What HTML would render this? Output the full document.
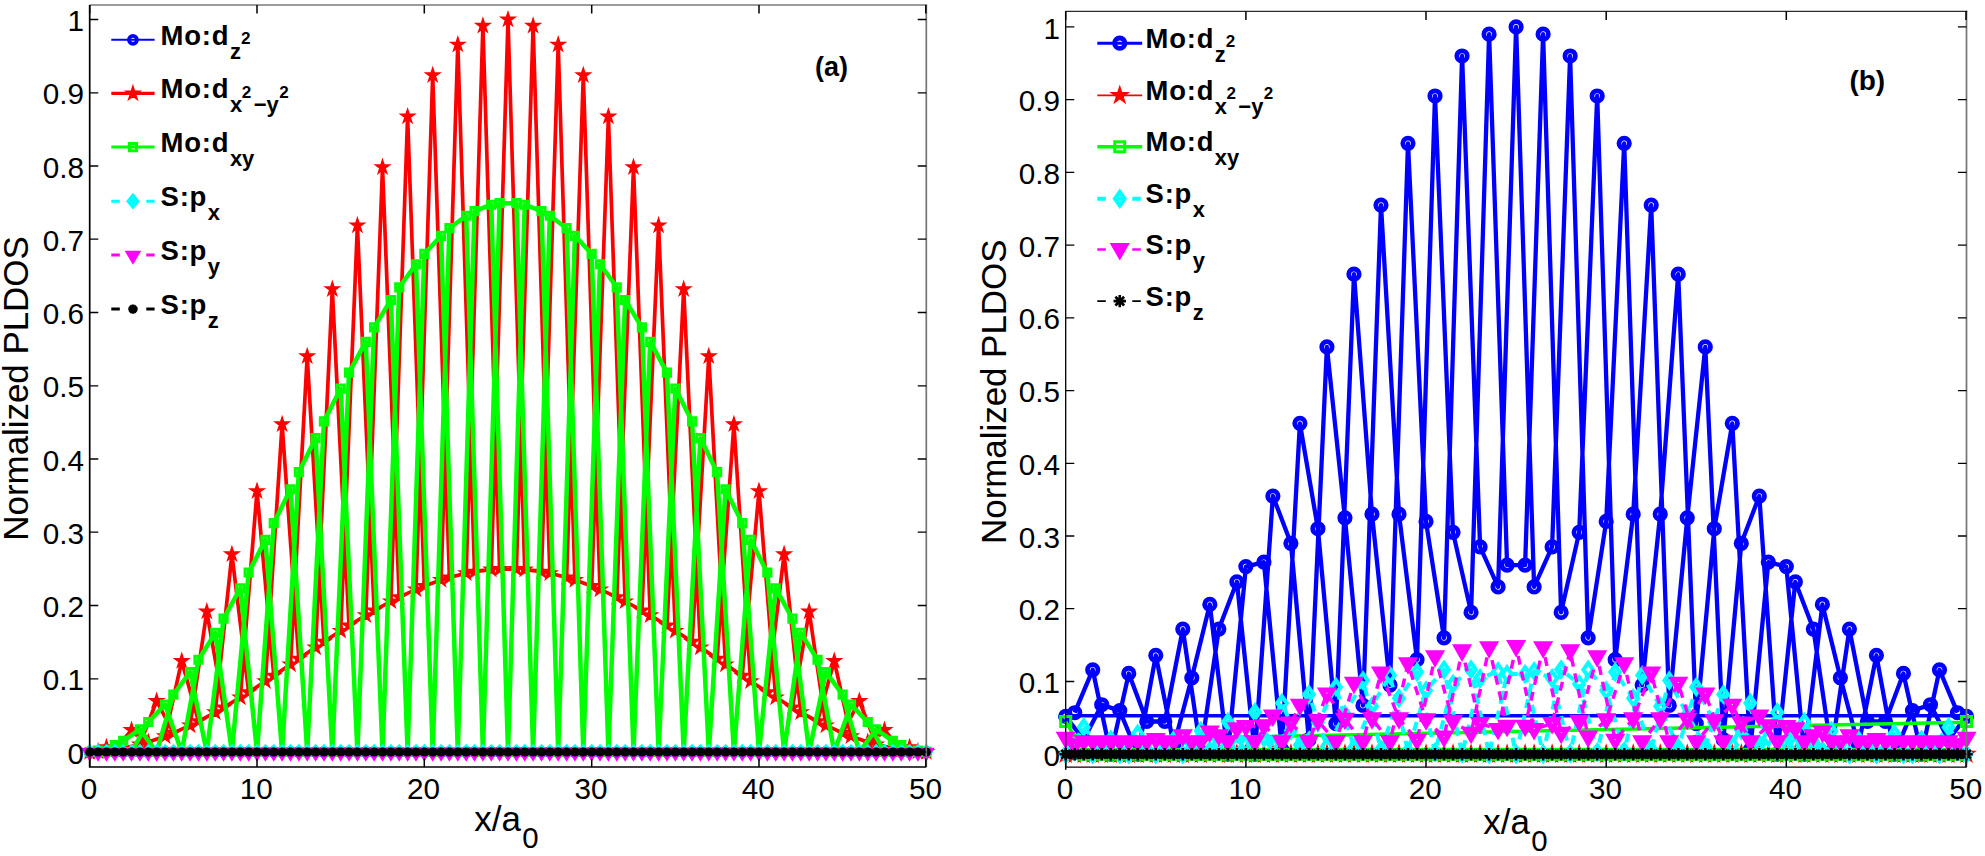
<!DOCTYPE html>
<html lang="en"><head><meta charset="utf-8"><title>Normalized PLDOS</title>
<style>html,body{margin:0;padding:0;background:#fff}svg{display:block}</style></head><body>
<svg width="1985" height="856" viewBox="0 0 1985 856">
<rect width="1985" height="856" fill="#fff"/>
<clipPath id="clipA"><rect x="77.7" y="5" width="860.6" height="762"/></clipPath>
<g clip-path="url(#clipA)">
<path d="M89.7 752H926.3" stroke="#0000ff" stroke-width="2" fill="none"/>
<path d="M85.7 752a4 4 0 1 0 8 0a4 4 0 1 0 -8 0ZM94.07 752a4 4 0 1 0 8 0a4 4 0 1 0 -8 0ZM102.43 752a4 4 0 1 0 8 0a4 4 0 1 0 -8 0ZM110.8 752a4 4 0 1 0 8 0a4 4 0 1 0 -8 0ZM119.16 752a4 4 0 1 0 8 0a4 4 0 1 0 -8 0ZM127.53 752a4 4 0 1 0 8 0a4 4 0 1 0 -8 0ZM135.9 752a4 4 0 1 0 8 0a4 4 0 1 0 -8 0ZM144.26 752a4 4 0 1 0 8 0a4 4 0 1 0 -8 0ZM152.63 752a4 4 0 1 0 8 0a4 4 0 1 0 -8 0ZM160.99 752a4 4 0 1 0 8 0a4 4 0 1 0 -8 0ZM169.36 752a4 4 0 1 0 8 0a4 4 0 1 0 -8 0ZM177.73 752a4 4 0 1 0 8 0a4 4 0 1 0 -8 0ZM186.09 752a4 4 0 1 0 8 0a4 4 0 1 0 -8 0ZM194.46 752a4 4 0 1 0 8 0a4 4 0 1 0 -8 0ZM202.82 752a4 4 0 1 0 8 0a4 4 0 1 0 -8 0ZM211.19 752a4 4 0 1 0 8 0a4 4 0 1 0 -8 0ZM219.56 752a4 4 0 1 0 8 0a4 4 0 1 0 -8 0ZM227.92 752a4 4 0 1 0 8 0a4 4 0 1 0 -8 0ZM236.29 752a4 4 0 1 0 8 0a4 4 0 1 0 -8 0ZM244.65 752a4 4 0 1 0 8 0a4 4 0 1 0 -8 0ZM253.02 752a4 4 0 1 0 8 0a4 4 0 1 0 -8 0ZM261.39 752a4 4 0 1 0 8 0a4 4 0 1 0 -8 0ZM269.75 752a4 4 0 1 0 8 0a4 4 0 1 0 -8 0ZM278.12 752a4 4 0 1 0 8 0a4 4 0 1 0 -8 0ZM286.48 752a4 4 0 1 0 8 0a4 4 0 1 0 -8 0ZM294.85 752a4 4 0 1 0 8 0a4 4 0 1 0 -8 0ZM303.22 752a4 4 0 1 0 8 0a4 4 0 1 0 -8 0ZM311.58 752a4 4 0 1 0 8 0a4 4 0 1 0 -8 0ZM319.95 752a4 4 0 1 0 8 0a4 4 0 1 0 -8 0ZM328.31 752a4 4 0 1 0 8 0a4 4 0 1 0 -8 0ZM336.68 752a4 4 0 1 0 8 0a4 4 0 1 0 -8 0ZM345.05 752a4 4 0 1 0 8 0a4 4 0 1 0 -8 0ZM353.41 752a4 4 0 1 0 8 0a4 4 0 1 0 -8 0ZM361.78 752a4 4 0 1 0 8 0a4 4 0 1 0 -8 0ZM370.14 752a4 4 0 1 0 8 0a4 4 0 1 0 -8 0ZM378.51 752a4 4 0 1 0 8 0a4 4 0 1 0 -8 0ZM386.88 752a4 4 0 1 0 8 0a4 4 0 1 0 -8 0ZM395.24 752a4 4 0 1 0 8 0a4 4 0 1 0 -8 0ZM403.61 752a4 4 0 1 0 8 0a4 4 0 1 0 -8 0ZM411.97 752a4 4 0 1 0 8 0a4 4 0 1 0 -8 0ZM420.34 752a4 4 0 1 0 8 0a4 4 0 1 0 -8 0ZM428.71 752a4 4 0 1 0 8 0a4 4 0 1 0 -8 0ZM437.07 752a4 4 0 1 0 8 0a4 4 0 1 0 -8 0ZM445.44 752a4 4 0 1 0 8 0a4 4 0 1 0 -8 0ZM453.8 752a4 4 0 1 0 8 0a4 4 0 1 0 -8 0ZM462.17 752a4 4 0 1 0 8 0a4 4 0 1 0 -8 0ZM470.54 752a4 4 0 1 0 8 0a4 4 0 1 0 -8 0ZM478.9 752a4 4 0 1 0 8 0a4 4 0 1 0 -8 0ZM487.27 752a4 4 0 1 0 8 0a4 4 0 1 0 -8 0ZM495.63 752a4 4 0 1 0 8 0a4 4 0 1 0 -8 0ZM504 752a4 4 0 1 0 8 0a4 4 0 1 0 -8 0ZM512.37 752a4 4 0 1 0 8 0a4 4 0 1 0 -8 0ZM520.73 752a4 4 0 1 0 8 0a4 4 0 1 0 -8 0ZM529.1 752a4 4 0 1 0 8 0a4 4 0 1 0 -8 0ZM537.46 752a4 4 0 1 0 8 0a4 4 0 1 0 -8 0ZM545.83 752a4 4 0 1 0 8 0a4 4 0 1 0 -8 0ZM554.2 752a4 4 0 1 0 8 0a4 4 0 1 0 -8 0ZM562.56 752a4 4 0 1 0 8 0a4 4 0 1 0 -8 0ZM570.93 752a4 4 0 1 0 8 0a4 4 0 1 0 -8 0ZM579.29 752a4 4 0 1 0 8 0a4 4 0 1 0 -8 0ZM587.66 752a4 4 0 1 0 8 0a4 4 0 1 0 -8 0ZM596.03 752a4 4 0 1 0 8 0a4 4 0 1 0 -8 0ZM604.39 752a4 4 0 1 0 8 0a4 4 0 1 0 -8 0ZM612.76 752a4 4 0 1 0 8 0a4 4 0 1 0 -8 0ZM621.12 752a4 4 0 1 0 8 0a4 4 0 1 0 -8 0ZM629.49 752a4 4 0 1 0 8 0a4 4 0 1 0 -8 0ZM637.86 752a4 4 0 1 0 8 0a4 4 0 1 0 -8 0ZM646.22 752a4 4 0 1 0 8 0a4 4 0 1 0 -8 0ZM654.59 752a4 4 0 1 0 8 0a4 4 0 1 0 -8 0ZM662.95 752a4 4 0 1 0 8 0a4 4 0 1 0 -8 0ZM671.32 752a4 4 0 1 0 8 0a4 4 0 1 0 -8 0ZM679.69 752a4 4 0 1 0 8 0a4 4 0 1 0 -8 0ZM688.05 752a4 4 0 1 0 8 0a4 4 0 1 0 -8 0ZM696.42 752a4 4 0 1 0 8 0a4 4 0 1 0 -8 0ZM704.78 752a4 4 0 1 0 8 0a4 4 0 1 0 -8 0ZM713.15 752a4 4 0 1 0 8 0a4 4 0 1 0 -8 0ZM721.52 752a4 4 0 1 0 8 0a4 4 0 1 0 -8 0ZM729.88 752a4 4 0 1 0 8 0a4 4 0 1 0 -8 0ZM738.25 752a4 4 0 1 0 8 0a4 4 0 1 0 -8 0ZM746.61 752a4 4 0 1 0 8 0a4 4 0 1 0 -8 0ZM754.98 752a4 4 0 1 0 8 0a4 4 0 1 0 -8 0ZM763.35 752a4 4 0 1 0 8 0a4 4 0 1 0 -8 0ZM771.71 752a4 4 0 1 0 8 0a4 4 0 1 0 -8 0ZM780.08 752a4 4 0 1 0 8 0a4 4 0 1 0 -8 0ZM788.44 752a4 4 0 1 0 8 0a4 4 0 1 0 -8 0ZM796.81 752a4 4 0 1 0 8 0a4 4 0 1 0 -8 0ZM805.18 752a4 4 0 1 0 8 0a4 4 0 1 0 -8 0ZM813.54 752a4 4 0 1 0 8 0a4 4 0 1 0 -8 0ZM821.91 752a4 4 0 1 0 8 0a4 4 0 1 0 -8 0ZM830.27 752a4 4 0 1 0 8 0a4 4 0 1 0 -8 0ZM838.64 752a4 4 0 1 0 8 0a4 4 0 1 0 -8 0ZM847.01 752a4 4 0 1 0 8 0a4 4 0 1 0 -8 0ZM855.37 752a4 4 0 1 0 8 0a4 4 0 1 0 -8 0ZM863.74 752a4 4 0 1 0 8 0a4 4 0 1 0 -8 0ZM872.1 752a4 4 0 1 0 8 0a4 4 0 1 0 -8 0ZM880.47 752a4 4 0 1 0 8 0a4 4 0 1 0 -8 0ZM888.84 752a4 4 0 1 0 8 0a4 4 0 1 0 -8 0ZM897.2 752a4 4 0 1 0 8 0a4 4 0 1 0 -8 0ZM905.57 752a4 4 0 1 0 8 0a4 4 0 1 0 -8 0ZM913.93 752a4 4 0 1 0 8 0a4 4 0 1 0 -8 0ZM922.3 752a4 4 0 1 0 8 0a4 4 0 1 0 -8 0Z" fill="none" stroke="#0000ff" stroke-width="3.8"/>
<path d="M89.7 751.9L106.4 747.2L123.2 748.3L139.9 744.4L156.6 701L173.4 732.9L190.1 725.4L206.8 611.6L223.6 707.5L240.3 697.4L257 491.1L273.8 675.7L290.5 664.4L307.2 356.2L323.9 641.8L340.7 630.8L357.4 225.4L374.1 610.5L390.9 601.3L407.6 116.5L424.3 586L441.1 579.9L457.8 44.6L474.5 571.7L491.3 569.6L508 19.5L524.7 569.6L541.5 571.7L558.2 44.6L574.9 579.9L591.7 586L608.4 116.5L625.1 601.3L641.9 610.5L658.6 225.4L675.3 630.8L692.1 641.8L708.8 356.2L725.5 664.4L742.2 675.7L759 491.1L775.7 697.4L792.4 707.5L809.2 611.6L825.9 725.4L842.6 732.9L859.4 701L876.1 744.4L892.8 748.3L909.6 747.2L926.3 751.9M98.1 751.5L114.8 749.7L131.5 730.1L148.3 742L165 736.2L181.7 661L198.5 721.3L215.2 712.3L231.9 554.2L248.7 692.2L265.4 681.3L282.1 424.3L298.8 658.7L315.6 647.4L332.3 289.1L349 625.5L365.8 615.3L382.5 167.2L399.2 597.1L416 589.4L432.7 75.2L449.4 577.4L466.2 573.3L482.9 25.8L499.6 569.1L516.4 569.1L533.1 25.8L549.8 573.3L566.6 577.4L583.3 75.2L600 589.4L616.8 597.1L633.5 167.2L650.2 615.3L667 625.5L683.7 289.1L700.4 647.4L717.1 658.7L733.9 424.3L750.6 681.3L767.3 692.2L784.1 554.2L800.8 712.3L817.5 721.3L834.3 661L851 736.2L867.7 742L884.5 730.1L901.2 749.7L917.9 751.5" fill="none" stroke="#ff0000" stroke-width="3.7" stroke-linejoin="round"/>
<path d="M89.7 744.94L91.27 749.77L96.36 749.77L92.24 752.76L93.81 757.6L89.7 754.61L85.59 757.6L87.16 752.76L83.04 749.77L88.13 749.77ZM98.07 744.55L99.64 749.39L104.72 749.39L100.61 752.37L102.18 757.21L98.07 754.22L93.95 757.21L95.52 752.37L91.41 749.39L96.49 749.39ZM106.43 740.24L108 745.08L113.09 745.08L108.98 748.06L110.55 752.9L106.43 749.91L102.32 752.9L103.89 748.06L99.77 745.08L104.86 745.08ZM114.8 742.72L116.37 747.56L121.46 747.56L117.34 750.55L118.91 755.39L114.8 752.4L110.68 755.39L112.25 750.55L108.14 747.56L113.23 747.56ZM123.16 741.29L124.74 746.13L129.82 746.13L125.71 749.12L127.28 753.95L123.16 750.97L119.05 753.95L120.62 749.12L116.51 746.13L121.59 746.13ZM131.53 723.08L133.1 727.92L138.19 727.92L134.07 730.91L135.64 735.75L131.53 732.76L127.42 735.75L128.99 730.91L124.87 727.92L129.96 727.92ZM139.9 737.42L141.47 742.26L146.55 742.26L142.44 745.25L144.01 750.08L139.9 747.09L135.78 750.08L137.35 745.25L133.24 742.26L138.32 742.26ZM148.26 734.99L149.83 739.83L154.92 739.83L150.81 742.82L152.38 747.66L148.26 744.67L144.15 747.66L145.72 742.82L141.6 739.83L146.69 739.83ZM156.63 694.02L158.2 698.86L163.29 698.86L159.17 701.85L160.74 706.68L156.63 703.69L152.51 706.68L154.08 701.85L149.97 698.86L155.06 698.86ZM164.99 729.21L166.57 734.05L171.65 734.05L167.54 737.04L169.11 741.87L164.99 738.89L160.88 741.87L162.45 737.04L158.34 734.05L163.42 734.05ZM173.36 725.88L174.93 730.71L180.02 730.71L175.9 733.7L177.47 738.54L173.36 735.55L169.25 738.54L170.82 733.7L166.7 730.71L171.79 730.71ZM181.73 654.05L183.3 658.89L188.38 658.89L184.27 661.88L185.84 666.71L181.73 663.72L177.61 666.71L179.18 661.88L175.07 658.89L180.15 658.89ZM190.09 718.38L191.66 723.22L196.75 723.22L192.64 726.21L194.21 731.05L190.09 728.06L185.98 731.05L187.55 726.21L183.43 723.22L188.52 723.22ZM198.46 714.25L200.03 719.09L205.12 719.09L201 722.08L202.57 726.92L198.46 723.93L194.34 726.92L195.91 722.08L191.8 719.09L196.89 719.09ZM206.82 604.55L208.4 609.39L213.48 609.39L209.37 612.38L210.94 617.22L206.82 614.23L202.71 617.22L204.28 612.38L200.17 609.39L205.25 609.39ZM215.19 705.31L216.76 710.14L221.85 710.14L217.73 713.13L219.3 717.97L215.19 714.98L211.08 717.97L212.65 713.13L208.53 710.14L213.62 710.14ZM223.56 700.53L225.13 705.36L230.21 705.36L226.1 708.35L227.67 713.19L223.56 710.2L219.44 713.19L221.01 708.35L216.9 705.36L221.98 705.36ZM231.92 547.25L233.49 552.09L238.58 552.09L234.47 555.08L236.04 559.91L231.92 556.92L227.81 559.91L229.38 555.08L225.26 552.09L230.35 552.09ZM240.29 690.44L241.86 695.27L246.95 695.27L242.83 698.26L244.4 703.1L240.29 700.11L236.17 703.1L237.74 698.26L233.63 695.27L238.72 695.27ZM248.65 685.17L250.23 690.01L255.31 690.01L251.2 693L252.77 697.83L248.65 694.84L244.54 697.83L246.11 693L242 690.01L247.08 690.01ZM257.02 484.11L258.59 488.95L263.68 488.95L259.56 491.94L261.13 496.78L257.02 493.79L252.91 496.78L254.48 491.94L250.36 488.95L255.45 488.95ZM265.39 674.29L266.96 679.12L272.04 679.12L267.93 682.11L269.5 686.95L265.39 683.96L261.27 686.95L262.84 682.11L258.73 679.12L263.81 679.12ZM273.75 668.71L275.32 673.55L280.41 673.55L276.3 676.54L277.87 681.38L273.75 678.39L269.64 681.38L271.21 676.54L267.09 673.55L272.18 673.55ZM282.12 417.34L283.69 422.17L288.78 422.17L284.66 425.16L286.23 430L282.12 427.01L278 430L279.57 425.16L275.46 422.17L280.55 422.17ZM290.48 657.42L292.06 662.25L297.14 662.25L293.03 665.24L294.6 670.08L290.48 667.09L286.37 670.08L287.94 665.24L283.83 662.25L288.91 662.25ZM298.85 651.73L300.42 656.57L305.51 656.57L301.39 659.56L302.96 664.4L298.85 661.41L294.74 664.4L296.31 659.56L292.19 656.57L297.28 656.57ZM307.22 349.22L308.79 354.06L313.87 354.06L309.76 357.05L311.33 361.88L307.22 358.9L303.1 361.88L304.67 357.05L300.56 354.06L305.64 354.06ZM315.58 640.41L317.15 645.24L322.24 645.24L318.13 648.23L319.7 653.07L315.58 650.08L311.47 653.07L313.04 648.23L308.92 645.24L314.01 645.24ZM323.95 634.81L325.52 639.65L330.61 639.65L326.49 642.63L328.06 647.47L323.95 644.48L319.83 647.47L321.4 642.63L317.29 639.65L322.38 639.65ZM332.31 282.13L333.89 286.97L338.97 286.97L334.86 289.95L336.43 294.79L332.31 291.8L328.2 294.79L329.77 289.95L325.66 286.97L330.74 286.97ZM340.68 623.85L342.25 628.69L347.34 628.69L343.22 631.68L344.79 636.51L340.68 633.52L336.57 636.51L338.14 631.68L334.02 628.69L339.11 628.69ZM349.05 618.53L350.62 623.37L355.7 623.37L351.59 626.36L353.16 631.19L349.05 628.2L344.93 631.19L346.5 626.36L342.39 623.37L347.47 623.37ZM357.41 218.38L358.98 223.21L364.07 223.22L359.96 226.2L361.53 231.04L357.41 228.05L353.3 231.04L354.87 226.2L350.75 223.22L355.84 223.21ZM365.78 608.31L367.35 613.15L372.44 613.15L368.32 616.14L369.89 620.98L365.78 617.99L361.66 620.98L363.23 616.14L359.12 613.15L364.21 613.15ZM374.14 603.46L375.72 608.29L380.8 608.29L376.69 611.28L378.26 616.12L374.14 613.13L370.03 616.12L371.6 611.28L367.49 608.29L372.57 608.29ZM382.51 160.18L384.08 165.01L389.17 165.01L385.05 168L386.62 172.84L382.51 169.85L378.4 172.84L379.97 168L375.85 165.01L380.94 165.01ZM390.88 594.34L392.45 599.18L397.53 599.18L393.42 602.17L394.99 607L390.88 604.01L386.76 607L388.33 602.17L384.22 599.18L389.3 599.18ZM399.24 590.12L400.81 594.95L405.9 594.95L401.79 597.94L403.36 602.78L399.24 599.79L395.13 602.78L396.7 597.94L392.58 594.95L397.67 594.95ZM407.61 109.53L409.18 114.37L414.27 114.37L410.15 117.36L411.72 122.2L407.61 119.21L403.49 122.2L405.06 117.36L400.95 114.37L406.04 114.37ZM415.97 582.41L417.55 587.25L422.63 587.25L418.52 590.24L420.09 595.07L415.97 592.09L411.86 595.07L413.43 590.24L409.32 587.25L414.4 587.25ZM424.34 578.96L425.91 583.8L431 583.8L426.88 586.79L428.45 591.63L424.34 588.64L420.23 591.63L421.8 586.79L417.68 583.8L422.77 583.8ZM432.71 68.21L434.28 73.04L439.36 73.04L435.25 76.03L436.82 80.87L432.71 77.88L428.59 80.87L430.16 76.03L426.05 73.04L431.13 73.04ZM441.07 572.94L442.64 577.78L447.73 577.78L443.62 580.77L445.19 585.6L441.07 582.61L436.96 585.6L438.53 580.77L434.41 577.78L439.5 577.78ZM449.44 570.39L451.01 575.22L456.1 575.22L451.98 578.21L453.55 583.05L449.44 580.06L445.32 583.05L446.89 578.21L442.78 575.22L447.87 575.22ZM457.8 37.62L459.38 42.46L464.46 42.46L460.35 45.45L461.92 50.28L457.8 47.29L453.69 50.28L455.26 45.45L451.15 42.46L456.23 42.46ZM466.17 566.25L467.74 571.09L472.83 571.09L468.71 574.08L470.28 578.91L466.17 575.93L462.06 578.91L463.63 574.08L459.51 571.09L464.6 571.09ZM474.54 564.68L476.11 569.52L481.19 569.52L477.08 572.51L478.65 577.35L474.54 574.36L470.42 577.35L471.99 572.51L467.88 569.52L472.96 569.52ZM482.9 18.83L484.47 23.67L489.56 23.67L485.45 26.66L487.02 31.5L482.9 28.51L478.79 31.5L480.36 26.66L476.24 23.67L481.33 23.67ZM491.27 562.58L492.84 567.42L497.93 567.42L493.81 570.41L495.38 575.24L491.27 572.25L487.15 575.24L488.72 570.41L484.61 567.42L489.7 567.42ZM499.63 562.05L501.21 566.89L506.29 566.89L502.18 569.88L503.75 574.71L499.63 571.73L495.52 574.71L497.09 569.88L492.98 566.89L498.06 566.89ZM508 12.5L509.57 17.34L514.66 17.34L510.54 20.33L512.11 25.16L508 22.17L503.89 25.16L505.46 20.33L501.34 17.34L506.43 17.34ZM516.37 562.05L517.94 566.89L523.02 566.89L518.91 569.88L520.48 574.71L516.37 571.73L512.25 574.71L513.82 569.88L509.71 566.89L514.79 566.89ZM524.73 562.58L526.3 567.42L531.39 567.42L527.28 570.41L528.85 575.24L524.73 572.25L520.62 575.24L522.19 570.41L518.07 567.42L523.16 567.42ZM533.1 18.83L534.67 23.67L539.76 23.67L535.64 26.66L537.21 31.5L533.1 28.51L528.98 31.5L530.55 26.66L526.44 23.67L531.53 23.67ZM541.46 564.68L543.04 569.52L548.12 569.52L544.01 572.51L545.58 577.35L541.46 574.36L537.35 577.35L538.92 572.51L534.81 569.52L539.89 569.52ZM549.83 566.25L551.4 571.09L556.49 571.09L552.37 574.08L553.94 578.91L549.83 575.93L545.72 578.91L547.29 574.08L543.17 571.09L548.26 571.09ZM558.2 37.62L559.77 42.46L564.85 42.46L560.74 45.45L562.31 50.28L558.2 47.29L554.08 50.28L555.65 45.45L551.54 42.46L556.62 42.46ZM566.56 570.39L568.13 575.22L573.22 575.22L569.11 578.21L570.68 583.05L566.56 580.06L562.45 583.05L564.02 578.21L559.9 575.22L564.99 575.22ZM574.93 572.94L576.5 577.78L581.59 577.78L577.47 580.77L579.04 585.6L574.93 582.61L570.81 585.6L572.38 580.77L568.27 577.78L573.36 577.78ZM583.29 68.21L584.87 73.04L589.95 73.04L585.84 76.03L587.41 80.87L583.29 77.88L579.18 80.87L580.75 76.03L576.64 73.04L581.72 73.04ZM591.66 578.96L593.23 583.8L598.32 583.8L594.2 586.79L595.77 591.63L591.66 588.64L587.55 591.63L589.12 586.79L585 583.8L590.09 583.8ZM600.03 582.41L601.6 587.25L606.68 587.25L602.57 590.24L604.14 595.07L600.03 592.09L595.91 595.07L597.48 590.24L593.37 587.25L598.45 587.25ZM608.39 109.53L609.96 114.37L615.05 114.37L610.94 117.36L612.51 122.2L608.39 119.21L604.28 122.2L605.85 117.36L601.73 114.37L606.82 114.37ZM616.76 590.12L618.33 594.95L623.42 594.95L619.3 597.94L620.87 602.78L616.76 599.79L612.64 602.78L614.21 597.94L610.1 594.95L615.19 594.95ZM625.12 594.34L626.7 599.18L631.78 599.18L627.67 602.17L629.24 607L625.12 604.01L621.01 607L622.58 602.17L618.47 599.18L623.55 599.18ZM633.49 160.18L635.06 165.01L640.15 165.01L636.03 168L637.6 172.84L633.49 169.85L629.38 172.84L630.95 168L626.83 165.01L631.92 165.01ZM641.86 603.46L643.43 608.29L648.51 608.29L644.4 611.28L645.97 616.12L641.86 613.13L637.74 616.12L639.31 611.28L635.2 608.29L640.28 608.29ZM650.22 608.31L651.79 613.15L656.88 613.15L652.77 616.14L654.34 620.98L650.22 617.99L646.11 620.98L647.68 616.14L643.56 613.15L648.65 613.15ZM658.59 218.38L660.16 223.21L665.25 223.22L661.13 226.2L662.7 231.04L658.59 228.05L654.47 231.04L656.04 226.2L651.93 223.22L657.02 223.21ZM666.95 618.53L668.53 623.37L673.61 623.37L669.5 626.36L671.07 631.19L666.95 628.2L662.84 631.19L664.41 626.36L660.3 623.37L665.38 623.37ZM675.32 623.85L676.89 628.69L681.98 628.69L677.86 631.68L679.43 636.51L675.32 633.52L671.21 636.51L672.78 631.68L668.66 628.69L673.75 628.69ZM683.69 282.13L685.26 286.97L690.34 286.97L686.23 289.95L687.8 294.79L683.69 291.8L679.57 294.79L681.14 289.95L677.03 286.97L682.11 286.97ZM692.05 634.81L693.62 639.65L698.71 639.65L694.6 642.63L696.17 647.47L692.05 644.48L687.94 647.47L689.51 642.63L685.39 639.65L690.48 639.65ZM700.42 640.41L701.99 645.24L707.08 645.24L702.96 648.23L704.53 653.07L700.42 650.08L696.3 653.07L697.87 648.23L693.76 645.24L698.85 645.24ZM708.78 349.22L710.36 354.06L715.44 354.06L711.33 357.05L712.9 361.88L708.78 358.9L704.67 361.88L706.24 357.05L702.13 354.06L707.21 354.06ZM717.15 651.73L718.72 656.57L723.81 656.57L719.69 659.56L721.26 664.4L717.15 661.41L713.04 664.4L714.61 659.56L710.49 656.57L715.58 656.57ZM725.52 657.42L727.09 662.25L732.17 662.25L728.06 665.24L729.63 670.08L725.52 667.09L721.4 670.08L722.97 665.24L718.86 662.25L723.94 662.25ZM733.88 417.34L735.45 422.17L740.54 422.17L736.43 425.16L738 430L733.88 427.01L729.77 430L731.34 425.16L727.22 422.17L732.31 422.17ZM742.25 668.71L743.82 673.55L748.91 673.55L744.79 676.54L746.36 681.38L742.25 678.39L738.13 681.38L739.7 676.54L735.59 673.55L740.68 673.55ZM750.61 674.29L752.19 679.12L757.27 679.12L753.16 682.11L754.73 686.95L750.61 683.96L746.5 686.95L748.07 682.11L743.96 679.12L749.04 679.12ZM758.98 484.11L760.55 488.95L765.64 488.95L761.52 491.94L763.09 496.78L758.98 493.79L754.87 496.78L756.44 491.94L752.32 488.95L757.41 488.95ZM767.35 685.17L768.92 690.01L774 690.01L769.89 693L771.46 697.83L767.35 694.84L763.23 697.83L764.8 693L760.69 690.01L765.77 690.01ZM775.71 690.44L777.28 695.27L782.37 695.27L778.26 698.26L779.83 703.1L775.71 700.11L771.6 703.1L773.17 698.26L769.05 695.27L774.14 695.27ZM784.08 547.25L785.65 552.09L790.74 552.09L786.62 555.08L788.19 559.91L784.08 556.92L779.96 559.91L781.53 555.08L777.42 552.09L782.51 552.09ZM792.44 700.53L794.02 705.36L799.1 705.36L794.99 708.35L796.56 713.19L792.44 710.2L788.33 713.19L789.9 708.35L785.79 705.36L790.87 705.36ZM800.81 705.31L802.38 710.14L807.47 710.14L803.35 713.13L804.92 717.97L800.81 714.98L796.7 717.97L798.27 713.13L794.15 710.14L799.24 710.14ZM809.18 604.55L810.75 609.39L815.83 609.39L811.72 612.38L813.29 617.22L809.18 614.23L805.06 617.22L806.63 612.38L802.52 609.39L807.6 609.39ZM817.54 714.25L819.11 719.09L824.2 719.09L820.09 722.08L821.66 726.92L817.54 723.93L813.43 726.92L815 722.08L810.88 719.09L815.97 719.09ZM825.91 718.38L827.48 723.22L832.57 723.22L828.45 726.21L830.02 731.05L825.91 728.06L821.79 731.05L823.36 726.21L819.25 723.22L824.34 723.22ZM834.27 654.05L835.85 658.89L840.93 658.89L836.82 661.88L838.39 666.71L834.27 663.72L830.16 666.71L831.73 661.88L827.62 658.89L832.7 658.89ZM842.64 725.88L844.21 730.71L849.3 730.71L845.18 733.7L846.75 738.54L842.64 735.55L838.53 738.54L840.1 733.7L835.98 730.71L841.07 730.71ZM851.01 729.21L852.58 734.05L857.66 734.05L853.55 737.04L855.12 741.87L851.01 738.89L846.89 741.87L848.46 737.04L844.35 734.05L849.43 734.05ZM859.37 694.02L860.94 698.86L866.03 698.86L861.92 701.85L863.49 706.68L859.37 703.69L855.26 706.68L856.83 701.85L852.71 698.86L857.8 698.86ZM867.74 734.99L869.31 739.83L874.4 739.83L870.28 742.82L871.85 747.66L867.74 744.67L863.62 747.66L865.19 742.82L861.08 739.83L866.17 739.83ZM876.1 737.42L877.68 742.26L882.76 742.26L878.65 745.25L880.22 750.08L876.1 747.09L871.99 750.08L873.56 745.25L869.45 742.26L874.53 742.26ZM884.47 723.08L886.04 727.92L891.13 727.92L887.01 730.91L888.58 735.75L884.47 732.76L880.36 735.75L881.93 730.91L877.81 727.92L882.9 727.92ZM892.84 741.29L894.41 746.13L899.49 746.13L895.38 749.12L896.95 753.95L892.84 750.97L888.72 753.95L890.29 749.12L886.18 746.13L891.26 746.13ZM901.2 742.72L902.77 747.56L907.86 747.56L903.75 750.55L905.32 755.39L901.2 752.4L897.09 755.39L898.66 750.55L894.54 747.56L899.63 747.56ZM909.57 740.24L911.14 745.08L916.23 745.08L912.11 748.06L913.68 752.9L909.57 749.91L905.45 752.9L907.02 748.06L902.91 745.08L908 745.08ZM917.93 744.55L919.51 749.39L924.59 749.39L920.48 752.37L922.05 757.21L917.93 754.22L913.82 757.21L915.39 752.37L911.28 749.39L916.36 749.39ZM926.3 744.94L927.87 749.77L932.96 749.77L928.84 752.76L930.41 757.6L926.3 754.61L922.19 757.6L923.76 752.76L919.64 749.77L924.73 749.77Z" fill="#ff0000" stroke="#ff0000" stroke-width="1.6"/>
<path d="M89.7 751.8L106.4 752L123.2 740.9L139.9 729.3L156.6 752L173.4 694.6L190.1 672.1L206.8 752L223.6 618.6L240.3 588.3L257 752L273.8 523.1L290.5 489.2L307.2 752L323.9 421.4L340.7 388.5L357.4 752L374.1 327.4L390.9 300L407.6 752L424.3 253.9L441.1 235.8L457.8 752L474.5 211.1L491.3 204.7L508 752L524.7 204.7L541.5 211.1L558.2 752L574.9 235.8L591.7 253.9L608.4 752L625.1 300L641.9 327.4L658.6 752L675.3 388.5L692.1 421.4L708.8 752L725.5 489.2L742.2 523.1L759 752L775.7 588.3L792.4 618.6L809.2 752L825.9 672.1L842.6 694.6L859.4 752L876.1 729.3L892.8 740.9L909.6 752L926.3 751.8M98.1 750.6L114.8 745.2L131.5 752L148.3 722L165 704.6L181.7 752L198.5 659.8L215.2 632.9L231.9 752L248.7 572.5L265.4 539.9L282.1 752L298.8 472.2L315.6 438.2L332.3 752L349 372.6L365.8 341.9L382.5 752L399.2 287.3L416 264.2L432.7 752L449.4 228.2L466.2 215.8L482.9 752L499.6 203.2L516.4 203.2L533.1 752L549.8 215.8L566.6 228.2L583.3 752L600 264.2L616.8 287.3L633.5 752L650.2 341.9L667 372.6L683.7 752L700.4 438.2L717.1 472.2L733.9 752L750.6 539.9L767.3 572.5L784.1 752L800.8 632.9L817.5 659.8L834.3 752L851 704.6L867.7 722L884.5 752L901.2 745.2L917.9 750.6" fill="none" stroke="#00ff00" stroke-width="4.5" stroke-linejoin="round"/>
<path d="M86.1 748.21L93.3 748.21L93.3 755.41L86.1 755.41ZM94.47 747.05L101.67 747.05L101.67 754.25L94.47 754.25ZM102.83 748.4L110.03 748.4L110.03 755.6L102.83 755.6ZM111.2 741.57L118.4 741.57L118.4 748.77L111.2 748.77ZM119.56 737.27L126.76 737.27L126.76 744.47L119.56 744.47ZM127.93 748.4L135.13 748.4L135.13 755.6L127.93 755.6ZM136.3 725.66L143.5 725.66L143.5 732.86L136.3 732.86ZM144.66 718.38L151.86 718.38L151.86 725.58L144.66 725.58ZM153.03 748.4L160.23 748.4L160.23 755.6L153.03 755.6ZM161.39 701.04L168.59 701.04L168.59 708.24L161.39 708.24ZM169.76 691.03L176.96 691.03L176.96 698.23L169.76 698.23ZM178.13 748.4L185.33 748.4L185.33 755.6L178.13 755.6ZM186.49 668.55L193.69 668.55L193.69 675.75L186.49 675.75ZM194.86 656.16L202.06 656.16L202.06 663.36L194.86 663.36ZM203.22 748.4L210.42 748.4L210.42 755.6L203.22 755.6ZM211.59 629.32L218.79 629.32L218.79 636.52L211.59 636.52ZM219.96 614.98L227.16 614.98L227.16 622.18L219.96 622.18ZM228.32 748.4L235.52 748.4L235.52 755.6L228.32 755.6ZM236.69 584.71L243.89 584.71L243.89 591.91L236.69 591.91ZM245.05 568.91L252.25 568.91L252.25 576.11L245.05 576.11ZM253.42 748.4L260.62 748.4L260.62 755.6L253.42 755.6ZM261.79 536.26L268.99 536.26L268.99 543.46L261.79 543.46ZM270.15 519.54L277.35 519.54L277.35 526.74L270.15 526.74ZM278.52 748.4L285.72 748.4L285.72 755.6L278.52 755.6ZM286.88 485.65L294.08 485.65L294.08 492.85L286.88 492.85ZM295.25 468.6L302.45 468.6L302.45 475.8L295.25 475.8ZM303.62 748.4L310.82 748.4L310.82 755.6L303.62 755.6ZM311.98 434.62L319.18 434.62L319.18 441.82L311.98 441.82ZM320.35 417.83L327.55 417.83L327.55 425.03L320.35 425.03ZM328.71 748.4L335.91 748.4L335.91 755.6L328.71 755.6ZM337.08 384.95L344.28 384.95L344.28 392.15L337.08 392.15ZM345.45 368.99L352.65 368.99L352.65 376.19L345.45 376.19ZM353.81 748.4L361.01 748.4L361.01 755.6L353.81 755.6ZM362.18 338.34L369.38 338.34L369.38 345.54L362.18 345.54ZM370.54 323.77L377.74 323.77L377.74 330.97L370.54 330.97ZM378.91 748.4L386.11 748.4L386.11 755.6L378.91 755.6ZM387.28 296.42L394.48 296.42L394.48 303.62L387.28 303.62ZM395.64 283.75L402.84 283.75L402.84 290.95L395.64 290.95ZM404.01 748.4L411.21 748.4L411.21 755.6L404.01 755.6ZM412.37 260.63L419.57 260.63L419.57 267.83L412.37 267.83ZM420.74 250.29L427.94 250.29L427.94 257.49L420.74 257.49ZM429.11 748.4L436.31 748.4L436.31 755.6L429.11 755.6ZM437.47 232.22L444.67 232.22L444.67 239.42L437.47 239.42ZM445.84 224.56L453.04 224.56L453.04 231.76L445.84 231.76ZM454.2 748.4L461.4 748.4L461.4 755.6L454.2 755.6ZM462.57 212.15L469.77 212.15L469.77 219.35L462.57 219.35ZM470.94 207.45L478.14 207.45L478.14 214.65L470.94 214.65ZM479.3 748.4L486.5 748.4L486.5 755.6L479.3 755.6ZM487.67 201.14L494.87 201.14L494.87 208.34L487.67 208.34ZM496.03 199.55L503.23 199.55L503.23 206.75L496.03 206.75ZM504.4 748.4L511.6 748.4L511.6 755.6L504.4 755.6ZM512.77 199.55L519.97 199.55L519.97 206.75L512.77 206.75ZM521.13 201.14L528.33 201.14L528.33 208.34L521.13 208.34ZM529.5 748.4L536.7 748.4L536.7 755.6L529.5 755.6ZM537.86 207.45L545.06 207.45L545.06 214.65L537.86 214.65ZM546.23 212.15L553.43 212.15L553.43 219.35L546.23 219.35ZM554.6 748.4L561.8 748.4L561.8 755.6L554.6 755.6ZM562.96 224.56L570.16 224.56L570.16 231.76L562.96 231.76ZM571.33 232.22L578.53 232.22L578.53 239.42L571.33 239.42ZM579.69 748.4L586.89 748.4L586.89 755.6L579.69 755.6ZM588.06 250.29L595.26 250.29L595.26 257.49L588.06 257.49ZM596.43 260.63L603.63 260.63L603.63 267.83L596.43 267.83ZM604.79 748.4L611.99 748.4L611.99 755.6L604.79 755.6ZM613.16 283.75L620.36 283.75L620.36 290.95L613.16 290.95ZM621.52 296.42L628.72 296.42L628.72 303.62L621.52 303.62ZM629.89 748.4L637.09 748.4L637.09 755.6L629.89 755.6ZM638.26 323.77L645.46 323.77L645.46 330.97L638.26 330.97ZM646.62 338.34L653.82 338.34L653.82 345.54L646.62 345.54ZM654.99 748.4L662.19 748.4L662.19 755.6L654.99 755.6ZM663.35 368.99L670.55 368.99L670.55 376.19L663.35 376.19ZM671.72 384.95L678.92 384.95L678.92 392.15L671.72 392.15ZM680.09 748.4L687.29 748.4L687.29 755.6L680.09 755.6ZM688.45 417.83L695.65 417.83L695.65 425.03L688.45 425.03ZM696.82 434.62L704.02 434.62L704.02 441.82L696.82 441.82ZM705.18 748.4L712.38 748.4L712.38 755.6L705.18 755.6ZM713.55 468.6L720.75 468.6L720.75 475.8L713.55 475.8ZM721.92 485.65L729.12 485.65L729.12 492.85L721.92 492.85ZM730.28 748.4L737.48 748.4L737.48 755.6L730.28 755.6ZM738.65 519.54L745.85 519.54L745.85 526.74L738.65 526.74ZM747.01 536.26L754.21 536.26L754.21 543.46L747.01 543.46ZM755.38 748.4L762.58 748.4L762.58 755.6L755.38 755.6ZM763.75 568.91L770.95 568.91L770.95 576.11L763.75 576.11ZM772.11 584.71L779.31 584.71L779.31 591.91L772.11 591.91ZM780.48 748.4L787.68 748.4L787.68 755.6L780.48 755.6ZM788.84 614.98L796.04 614.98L796.04 622.18L788.84 622.18ZM797.21 629.32L804.41 629.32L804.41 636.52L797.21 636.52ZM805.58 748.4L812.78 748.4L812.78 755.6L805.58 755.6ZM813.94 656.16L821.14 656.16L821.14 663.36L813.94 663.36ZM822.31 668.55L829.51 668.55L829.51 675.75L822.31 675.75ZM830.67 748.4L837.87 748.4L837.87 755.6L830.67 755.6ZM839.04 691.03L846.24 691.03L846.24 698.23L839.04 698.23ZM847.41 701.04L854.61 701.04L854.61 708.24L847.41 708.24ZM855.77 748.4L862.97 748.4L862.97 755.6L855.77 755.6ZM864.14 718.38L871.34 718.38L871.34 725.58L864.14 725.58ZM872.5 725.66L879.7 725.66L879.7 732.86L872.5 732.86ZM880.87 748.4L888.07 748.4L888.07 755.6L880.87 755.6ZM889.24 737.27L896.44 737.27L896.44 744.47L889.24 744.47ZM897.6 741.57L904.8 741.57L904.8 748.77L897.6 748.77ZM905.97 748.4L913.17 748.4L913.17 755.6L905.97 755.6ZM914.33 747.05L921.53 747.05L921.53 754.25L914.33 754.25ZM922.7 748.21L929.9 748.21L929.9 755.41L922.7 755.41Z" fill="none" stroke="#00ff00" stroke-width="3"/>
<path d="M89.7 745.2L95.3 752L89.7 758.8L84.1 752ZM98.07 745.2L103.67 752L98.07 758.8L92.47 752ZM106.43 745.2L112.03 752L106.43 758.8L100.83 752ZM114.8 745.2L120.4 752L114.8 758.8L109.2 752ZM123.16 745.2L128.76 752L123.16 758.8L117.56 752ZM131.53 745.2L137.13 752L131.53 758.8L125.93 752ZM139.9 745.2L145.5 752L139.9 758.8L134.3 752ZM148.26 745.2L153.86 752L148.26 758.8L142.66 752ZM156.63 745.2L162.23 752L156.63 758.8L151.03 752ZM164.99 745.2L170.59 752L164.99 758.8L159.39 752ZM173.36 745.2L178.96 752L173.36 758.8L167.76 752ZM181.73 745.2L187.33 752L181.73 758.8L176.13 752ZM190.09 745.2L195.69 752L190.09 758.8L184.49 752ZM198.46 745.2L204.06 752L198.46 758.8L192.86 752ZM206.82 745.2L212.42 752L206.82 758.8L201.22 752ZM215.19 745.2L220.79 752L215.19 758.8L209.59 752ZM223.56 745.2L229.16 752L223.56 758.8L217.96 752ZM231.92 745.2L237.52 752L231.92 758.8L226.32 752ZM240.29 745.2L245.89 752L240.29 758.8L234.69 752ZM248.65 745.2L254.25 752L248.65 758.8L243.05 752ZM257.02 745.2L262.62 752L257.02 758.8L251.42 752ZM265.39 745.2L270.99 752L265.39 758.8L259.79 752ZM273.75 745.2L279.35 752L273.75 758.8L268.15 752ZM282.12 745.2L287.72 752L282.12 758.8L276.52 752ZM290.48 745.2L296.08 752L290.48 758.8L284.88 752ZM298.85 745.2L304.45 752L298.85 758.8L293.25 752ZM307.22 745.2L312.82 752L307.22 758.8L301.62 752ZM315.58 745.2L321.18 752L315.58 758.8L309.98 752ZM323.95 745.2L329.55 752L323.95 758.8L318.35 752ZM332.31 745.2L337.91 752L332.31 758.8L326.71 752ZM340.68 745.2L346.28 752L340.68 758.8L335.08 752ZM349.05 745.2L354.65 752L349.05 758.8L343.45 752ZM357.41 745.2L363.01 752L357.41 758.8L351.81 752ZM365.78 745.2L371.38 752L365.78 758.8L360.18 752ZM374.14 745.2L379.74 752L374.14 758.8L368.54 752ZM382.51 745.2L388.11 752L382.51 758.8L376.91 752ZM390.88 745.2L396.48 752L390.88 758.8L385.28 752ZM399.24 745.2L404.84 752L399.24 758.8L393.64 752ZM407.61 745.2L413.21 752L407.61 758.8L402.01 752ZM415.97 745.2L421.57 752L415.97 758.8L410.37 752ZM424.34 745.2L429.94 752L424.34 758.8L418.74 752ZM432.71 745.2L438.31 752L432.71 758.8L427.11 752ZM441.07 745.2L446.67 752L441.07 758.8L435.47 752ZM449.44 745.2L455.04 752L449.44 758.8L443.84 752ZM457.8 745.2L463.4 752L457.8 758.8L452.2 752ZM466.17 745.2L471.77 752L466.17 758.8L460.57 752ZM474.54 745.2L480.14 752L474.54 758.8L468.94 752ZM482.9 745.2L488.5 752L482.9 758.8L477.3 752ZM491.27 745.2L496.87 752L491.27 758.8L485.67 752ZM499.63 745.2L505.23 752L499.63 758.8L494.03 752ZM508 745.2L513.6 752L508 758.8L502.4 752ZM516.37 745.2L521.97 752L516.37 758.8L510.77 752ZM524.73 745.2L530.33 752L524.73 758.8L519.13 752ZM533.1 745.2L538.7 752L533.1 758.8L527.5 752ZM541.46 745.2L547.06 752L541.46 758.8L535.86 752ZM549.83 745.2L555.43 752L549.83 758.8L544.23 752ZM558.2 745.2L563.8 752L558.2 758.8L552.6 752ZM566.56 745.2L572.16 752L566.56 758.8L560.96 752ZM574.93 745.2L580.53 752L574.93 758.8L569.33 752ZM583.29 745.2L588.89 752L583.29 758.8L577.69 752ZM591.66 745.2L597.26 752L591.66 758.8L586.06 752ZM600.03 745.2L605.63 752L600.03 758.8L594.43 752ZM608.39 745.2L613.99 752L608.39 758.8L602.79 752ZM616.76 745.2L622.36 752L616.76 758.8L611.16 752ZM625.12 745.2L630.72 752L625.12 758.8L619.52 752ZM633.49 745.2L639.09 752L633.49 758.8L627.89 752ZM641.86 745.2L647.46 752L641.86 758.8L636.26 752ZM650.22 745.2L655.82 752L650.22 758.8L644.62 752ZM658.59 745.2L664.19 752L658.59 758.8L652.99 752ZM666.95 745.2L672.55 752L666.95 758.8L661.35 752ZM675.32 745.2L680.92 752L675.32 758.8L669.72 752ZM683.69 745.2L689.29 752L683.69 758.8L678.09 752ZM692.05 745.2L697.65 752L692.05 758.8L686.45 752ZM700.42 745.2L706.02 752L700.42 758.8L694.82 752ZM708.78 745.2L714.38 752L708.78 758.8L703.18 752ZM717.15 745.2L722.75 752L717.15 758.8L711.55 752ZM725.52 745.2L731.12 752L725.52 758.8L719.92 752ZM733.88 745.2L739.48 752L733.88 758.8L728.28 752ZM742.25 745.2L747.85 752L742.25 758.8L736.65 752ZM750.61 745.2L756.21 752L750.61 758.8L745.01 752ZM758.98 745.2L764.58 752L758.98 758.8L753.38 752ZM767.35 745.2L772.95 752L767.35 758.8L761.75 752ZM775.71 745.2L781.31 752L775.71 758.8L770.11 752ZM784.08 745.2L789.68 752L784.08 758.8L778.48 752ZM792.44 745.2L798.04 752L792.44 758.8L786.84 752ZM800.81 745.2L806.41 752L800.81 758.8L795.21 752ZM809.18 745.2L814.78 752L809.18 758.8L803.58 752ZM817.54 745.2L823.14 752L817.54 758.8L811.94 752ZM825.91 745.2L831.51 752L825.91 758.8L820.31 752ZM834.27 745.2L839.87 752L834.27 758.8L828.67 752ZM842.64 745.2L848.24 752L842.64 758.8L837.04 752ZM851.01 745.2L856.61 752L851.01 758.8L845.41 752ZM859.37 745.2L864.97 752L859.37 758.8L853.77 752ZM867.74 745.2L873.34 752L867.74 758.8L862.14 752ZM876.1 745.2L881.7 752L876.1 758.8L870.5 752ZM884.47 745.2L890.07 752L884.47 758.8L878.87 752ZM892.84 745.2L898.44 752L892.84 758.8L887.24 752ZM901.2 745.2L906.8 752L901.2 758.8L895.6 752ZM909.57 745.2L915.17 752L909.57 758.8L903.97 752ZM917.93 745.2L923.53 752L917.93 758.8L912.33 752ZM926.3 745.2L931.9 752L926.3 758.8L920.7 752Z" fill="#00ffff" stroke="#00ffff" stroke-width="2"/>
<path d="M83.5 749L95.9 749L89.7 759.4ZM91.87 749L104.27 749L98.07 759.4ZM100.23 749L112.63 749L106.43 759.4ZM108.6 749L121 749L114.8 759.4ZM116.96 749L129.36 749L123.16 759.4ZM125.33 749L137.73 749L131.53 759.4ZM133.7 749L146.1 749L139.9 759.4ZM142.06 749L154.46 749L148.26 759.4ZM150.43 749L162.83 749L156.63 759.4ZM158.79 749L171.19 749L164.99 759.4ZM167.16 749L179.56 749L173.36 759.4ZM175.53 749L187.93 749L181.73 759.4ZM183.89 749L196.29 749L190.09 759.4ZM192.26 749L204.66 749L198.46 759.4ZM200.62 749L213.02 749L206.82 759.4ZM208.99 749L221.39 749L215.19 759.4ZM217.36 749L229.76 749L223.56 759.4ZM225.72 749L238.12 749L231.92 759.4ZM234.09 749L246.49 749L240.29 759.4ZM242.45 749L254.85 749L248.65 759.4ZM250.82 749L263.22 749L257.02 759.4ZM259.19 749L271.59 749L265.39 759.4ZM267.55 749L279.95 749L273.75 759.4ZM275.92 749L288.32 749L282.12 759.4ZM284.28 749L296.68 749L290.48 759.4ZM292.65 749L305.05 749L298.85 759.4ZM301.02 749L313.42 749L307.22 759.4ZM309.38 749L321.78 749L315.58 759.4ZM317.75 749L330.15 749L323.95 759.4ZM326.11 749L338.51 749L332.31 759.4ZM334.48 749L346.88 749L340.68 759.4ZM342.85 749L355.25 749L349.05 759.4ZM351.21 749L363.61 749L357.41 759.4ZM359.58 749L371.98 749L365.78 759.4ZM367.94 749L380.34 749L374.14 759.4ZM376.31 749L388.71 749L382.51 759.4ZM384.68 749L397.08 749L390.88 759.4ZM393.04 749L405.44 749L399.24 759.4ZM401.41 749L413.81 749L407.61 759.4ZM409.77 749L422.17 749L415.97 759.4ZM418.14 749L430.54 749L424.34 759.4ZM426.51 749L438.91 749L432.71 759.4ZM434.87 749L447.27 749L441.07 759.4ZM443.24 749L455.64 749L449.44 759.4ZM451.6 749L464 749L457.8 759.4ZM459.97 749L472.37 749L466.17 759.4ZM468.34 749L480.74 749L474.54 759.4ZM476.7 749L489.1 749L482.9 759.4ZM485.07 749L497.47 749L491.27 759.4ZM493.43 749L505.83 749L499.63 759.4ZM501.8 749L514.2 749L508 759.4ZM510.17 749L522.57 749L516.37 759.4ZM518.53 749L530.93 749L524.73 759.4ZM526.9 749L539.3 749L533.1 759.4ZM535.26 749L547.66 749L541.46 759.4ZM543.63 749L556.03 749L549.83 759.4ZM552 749L564.4 749L558.2 759.4ZM560.36 749L572.76 749L566.56 759.4ZM568.73 749L581.13 749L574.93 759.4ZM577.09 749L589.49 749L583.29 759.4ZM585.46 749L597.86 749L591.66 759.4ZM593.83 749L606.23 749L600.03 759.4ZM602.19 749L614.59 749L608.39 759.4ZM610.56 749L622.96 749L616.76 759.4ZM618.92 749L631.32 749L625.12 759.4ZM627.29 749L639.69 749L633.49 759.4ZM635.66 749L648.06 749L641.86 759.4ZM644.02 749L656.42 749L650.22 759.4ZM652.39 749L664.79 749L658.59 759.4ZM660.75 749L673.15 749L666.95 759.4ZM669.12 749L681.52 749L675.32 759.4ZM677.49 749L689.89 749L683.69 759.4ZM685.85 749L698.25 749L692.05 759.4ZM694.22 749L706.62 749L700.42 759.4ZM702.58 749L714.98 749L708.78 759.4ZM710.95 749L723.35 749L717.15 759.4ZM719.32 749L731.72 749L725.52 759.4ZM727.68 749L740.08 749L733.88 759.4ZM736.05 749L748.45 749L742.25 759.4ZM744.41 749L756.81 749L750.61 759.4ZM752.78 749L765.18 749L758.98 759.4ZM761.15 749L773.55 749L767.35 759.4ZM769.51 749L781.91 749L775.71 759.4ZM777.88 749L790.28 749L784.08 759.4ZM786.24 749L798.64 749L792.44 759.4ZM794.61 749L807.01 749L800.81 759.4ZM802.98 749L815.38 749L809.18 759.4ZM811.34 749L823.74 749L817.54 759.4ZM819.71 749L832.11 749L825.91 759.4ZM828.07 749L840.47 749L834.27 759.4ZM836.44 749L848.84 749L842.64 759.4ZM844.81 749L857.21 749L851.01 759.4ZM853.17 749L865.57 749L859.37 759.4ZM861.54 749L873.94 749L867.74 759.4ZM869.9 749L882.3 749L876.1 759.4ZM878.27 749L890.67 749L884.47 759.4ZM886.64 749L899.04 749L892.84 759.4ZM895 749L907.4 749L901.2 759.4ZM903.37 749L915.77 749L909.57 759.4ZM911.73 749L924.13 749L917.93 759.4ZM920.1 749L932.5 749L926.3 759.4Z" fill="#ff00ff" stroke="#ff00ff" stroke-width="2.4"/>
<path d="M89.7 752H926.3" stroke="#000" stroke-width="6.6" fill="none" stroke-linecap="round"/>
<path d="M85.1 752h9.2M89.7 747.4v9.2M86.45 748.75l6.51 6.51M86.45 755.25l6.51 -6.51M93.47 752h9.2M98.07 747.4v9.2M94.81 748.75l6.51 6.51M94.81 755.25l6.51 -6.51M101.83 752h9.2M106.43 747.4v9.2M103.18 748.75l6.51 6.51M103.18 755.25l6.51 -6.51M110.2 752h9.2M114.8 747.4v9.2M111.55 748.75l6.51 6.51M111.55 755.25l6.51 -6.51M118.56 752h9.2M123.16 747.4v9.2M119.91 748.75l6.51 6.51M119.91 755.25l6.51 -6.51M126.93 752h9.2M131.53 747.4v9.2M128.28 748.75l6.51 6.51M128.28 755.25l6.51 -6.51M135.3 752h9.2M139.9 747.4v9.2M136.64 748.75l6.51 6.51M136.64 755.25l6.51 -6.51M143.66 752h9.2M148.26 747.4v9.2M145.01 748.75l6.51 6.51M145.01 755.25l6.51 -6.51M152.03 752h9.2M156.63 747.4v9.2M153.38 748.75l6.51 6.51M153.38 755.25l6.51 -6.51M160.39 752h9.2M164.99 747.4v9.2M161.74 748.75l6.51 6.51M161.74 755.25l6.51 -6.51M168.76 752h9.2M173.36 747.4v9.2M170.11 748.75l6.51 6.51M170.11 755.25l6.51 -6.51M177.13 752h9.2M181.73 747.4v9.2M178.47 748.75l6.51 6.51M178.47 755.25l6.51 -6.51M185.49 752h9.2M190.09 747.4v9.2M186.84 748.75l6.51 6.51M186.84 755.25l6.51 -6.51M193.86 752h9.2M198.46 747.4v9.2M195.21 748.75l6.51 6.51M195.21 755.25l6.51 -6.51M202.22 752h9.2M206.82 747.4v9.2M203.57 748.75l6.51 6.51M203.57 755.25l6.51 -6.51M210.59 752h9.2M215.19 747.4v9.2M211.94 748.75l6.51 6.51M211.94 755.25l6.51 -6.51M218.96 752h9.2M223.56 747.4v9.2M220.3 748.75l6.51 6.51M220.3 755.25l6.51 -6.51M227.32 752h9.2M231.92 747.4v9.2M228.67 748.75l6.51 6.51M228.67 755.25l6.51 -6.51M235.69 752h9.2M240.29 747.4v9.2M237.04 748.75l6.51 6.51M237.04 755.25l6.51 -6.51M244.05 752h9.2M248.65 747.4v9.2M245.4 748.75l6.51 6.51M245.4 755.25l6.51 -6.51M252.42 752h9.2M257.02 747.4v9.2M253.77 748.75l6.51 6.51M253.77 755.25l6.51 -6.51M260.79 752h9.2M265.39 747.4v9.2M262.13 748.75l6.51 6.51M262.13 755.25l6.51 -6.51M269.15 752h9.2M273.75 747.4v9.2M270.5 748.75l6.51 6.51M270.5 755.25l6.51 -6.51M277.52 752h9.2M282.12 747.4v9.2M278.87 748.75l6.51 6.51M278.87 755.25l6.51 -6.51M285.88 752h9.2M290.48 747.4v9.2M287.23 748.75l6.51 6.51M287.23 755.25l6.51 -6.51M294.25 752h9.2M298.85 747.4v9.2M295.6 748.75l6.51 6.51M295.6 755.25l6.51 -6.51M302.62 752h9.2M307.22 747.4v9.2M303.96 748.75l6.51 6.51M303.96 755.25l6.51 -6.51M310.98 752h9.2M315.58 747.4v9.2M312.33 748.75l6.51 6.51M312.33 755.25l6.51 -6.51M319.35 752h9.2M323.95 747.4v9.2M320.7 748.75l6.51 6.51M320.7 755.25l6.51 -6.51M327.71 752h9.2M332.31 747.4v9.2M329.06 748.75l6.51 6.51M329.06 755.25l6.51 -6.51M336.08 752h9.2M340.68 747.4v9.2M337.43 748.75l6.51 6.51M337.43 755.25l6.51 -6.51M344.45 752h9.2M349.05 747.4v9.2M345.79 748.75l6.51 6.51M345.79 755.25l6.51 -6.51M352.81 752h9.2M357.41 747.4v9.2M354.16 748.75l6.51 6.51M354.16 755.25l6.51 -6.51M361.18 752h9.2M365.78 747.4v9.2M362.53 748.75l6.51 6.51M362.53 755.25l6.51 -6.51M369.54 752h9.2M374.14 747.4v9.2M370.89 748.75l6.51 6.51M370.89 755.25l6.51 -6.51M377.91 752h9.2M382.51 747.4v9.2M379.26 748.75l6.51 6.51M379.26 755.25l6.51 -6.51M386.28 752h9.2M390.88 747.4v9.2M387.62 748.75l6.51 6.51M387.62 755.25l6.51 -6.51M394.64 752h9.2M399.24 747.4v9.2M395.99 748.75l6.51 6.51M395.99 755.25l6.51 -6.51M403.01 752h9.2M407.61 747.4v9.2M404.36 748.75l6.51 6.51M404.36 755.25l6.51 -6.51M411.37 752h9.2M415.97 747.4v9.2M412.72 748.75l6.51 6.51M412.72 755.25l6.51 -6.51M419.74 752h9.2M424.34 747.4v9.2M421.09 748.75l6.51 6.51M421.09 755.25l6.51 -6.51M428.11 752h9.2M432.71 747.4v9.2M429.45 748.75l6.51 6.51M429.45 755.25l6.51 -6.51M436.47 752h9.2M441.07 747.4v9.2M437.82 748.75l6.51 6.51M437.82 755.25l6.51 -6.51M444.84 752h9.2M449.44 747.4v9.2M446.19 748.75l6.51 6.51M446.19 755.25l6.51 -6.51M453.2 752h9.2M457.8 747.4v9.2M454.55 748.75l6.51 6.51M454.55 755.25l6.51 -6.51M461.57 752h9.2M466.17 747.4v9.2M462.92 748.75l6.51 6.51M462.92 755.25l6.51 -6.51M469.94 752h9.2M474.54 747.4v9.2M471.28 748.75l6.51 6.51M471.28 755.25l6.51 -6.51M478.3 752h9.2M482.9 747.4v9.2M479.65 748.75l6.51 6.51M479.65 755.25l6.51 -6.51M486.67 752h9.2M491.27 747.4v9.2M488.02 748.75l6.51 6.51M488.02 755.25l6.51 -6.51M495.03 752h9.2M499.63 747.4v9.2M496.38 748.75l6.51 6.51M496.38 755.25l6.51 -6.51M503.4 752h9.2M508 747.4v9.2M504.75 748.75l6.51 6.51M504.75 755.25l6.51 -6.51M511.77 752h9.2M516.37 747.4v9.2M513.11 748.75l6.51 6.51M513.11 755.25l6.51 -6.51M520.13 752h9.2M524.73 747.4v9.2M521.48 748.75l6.51 6.51M521.48 755.25l6.51 -6.51M528.5 752h9.2M533.1 747.4v9.2M529.85 748.75l6.51 6.51M529.85 755.25l6.51 -6.51M536.86 752h9.2M541.46 747.4v9.2M538.21 748.75l6.51 6.51M538.21 755.25l6.51 -6.51M545.23 752h9.2M549.83 747.4v9.2M546.58 748.75l6.51 6.51M546.58 755.25l6.51 -6.51M553.6 752h9.2M558.2 747.4v9.2M554.94 748.75l6.51 6.51M554.94 755.25l6.51 -6.51M561.96 752h9.2M566.56 747.4v9.2M563.31 748.75l6.51 6.51M563.31 755.25l6.51 -6.51M570.33 752h9.2M574.93 747.4v9.2M571.68 748.75l6.51 6.51M571.68 755.25l6.51 -6.51M578.69 752h9.2M583.29 747.4v9.2M580.04 748.75l6.51 6.51M580.04 755.25l6.51 -6.51M587.06 752h9.2M591.66 747.4v9.2M588.41 748.75l6.51 6.51M588.41 755.25l6.51 -6.51M595.43 752h9.2M600.03 747.4v9.2M596.77 748.75l6.51 6.51M596.77 755.25l6.51 -6.51M603.79 752h9.2M608.39 747.4v9.2M605.14 748.75l6.51 6.51M605.14 755.25l6.51 -6.51M612.16 752h9.2M616.76 747.4v9.2M613.51 748.75l6.51 6.51M613.51 755.25l6.51 -6.51M620.52 752h9.2M625.12 747.4v9.2M621.87 748.75l6.51 6.51M621.87 755.25l6.51 -6.51M628.89 752h9.2M633.49 747.4v9.2M630.24 748.75l6.51 6.51M630.24 755.25l6.51 -6.51M637.26 752h9.2M641.86 747.4v9.2M638.6 748.75l6.51 6.51M638.6 755.25l6.51 -6.51M645.62 752h9.2M650.22 747.4v9.2M646.97 748.75l6.51 6.51M646.97 755.25l6.51 -6.51M653.99 752h9.2M658.59 747.4v9.2M655.34 748.75l6.51 6.51M655.34 755.25l6.51 -6.51M662.35 752h9.2M666.95 747.4v9.2M663.7 748.75l6.51 6.51M663.7 755.25l6.51 -6.51M670.72 752h9.2M675.32 747.4v9.2M672.07 748.75l6.51 6.51M672.07 755.25l6.51 -6.51M679.09 752h9.2M683.69 747.4v9.2M680.43 748.75l6.51 6.51M680.43 755.25l6.51 -6.51M687.45 752h9.2M692.05 747.4v9.2M688.8 748.75l6.51 6.51M688.8 755.25l6.51 -6.51M695.82 752h9.2M700.42 747.4v9.2M697.17 748.75l6.51 6.51M697.17 755.25l6.51 -6.51M704.18 752h9.2M708.78 747.4v9.2M705.53 748.75l6.51 6.51M705.53 755.25l6.51 -6.51M712.55 752h9.2M717.15 747.4v9.2M713.9 748.75l6.51 6.51M713.9 755.25l6.51 -6.51M720.92 752h9.2M725.52 747.4v9.2M722.26 748.75l6.51 6.51M722.26 755.25l6.51 -6.51M729.28 752h9.2M733.88 747.4v9.2M730.63 748.75l6.51 6.51M730.63 755.25l6.51 -6.51M737.65 752h9.2M742.25 747.4v9.2M739 748.75l6.51 6.51M739 755.25l6.51 -6.51M746.01 752h9.2M750.61 747.4v9.2M747.36 748.75l6.51 6.51M747.36 755.25l6.51 -6.51M754.38 752h9.2M758.98 747.4v9.2M755.73 748.75l6.51 6.51M755.73 755.25l6.51 -6.51M762.75 752h9.2M767.35 747.4v9.2M764.09 748.75l6.51 6.51M764.09 755.25l6.51 -6.51M771.11 752h9.2M775.71 747.4v9.2M772.46 748.75l6.51 6.51M772.46 755.25l6.51 -6.51M779.48 752h9.2M784.08 747.4v9.2M780.83 748.75l6.51 6.51M780.83 755.25l6.51 -6.51M787.84 752h9.2M792.44 747.4v9.2M789.19 748.75l6.51 6.51M789.19 755.25l6.51 -6.51M796.21 752h9.2M800.81 747.4v9.2M797.56 748.75l6.51 6.51M797.56 755.25l6.51 -6.51M804.58 752h9.2M809.18 747.4v9.2M805.92 748.75l6.51 6.51M805.92 755.25l6.51 -6.51M812.94 752h9.2M817.54 747.4v9.2M814.29 748.75l6.51 6.51M814.29 755.25l6.51 -6.51M821.31 752h9.2M825.91 747.4v9.2M822.66 748.75l6.51 6.51M822.66 755.25l6.51 -6.51M829.67 752h9.2M834.27 747.4v9.2M831.02 748.75l6.51 6.51M831.02 755.25l6.51 -6.51M838.04 752h9.2M842.64 747.4v9.2M839.39 748.75l6.51 6.51M839.39 755.25l6.51 -6.51M846.41 752h9.2M851.01 747.4v9.2M847.75 748.75l6.51 6.51M847.75 755.25l6.51 -6.51M854.77 752h9.2M859.37 747.4v9.2M856.12 748.75l6.51 6.51M856.12 755.25l6.51 -6.51M863.14 752h9.2M867.74 747.4v9.2M864.49 748.75l6.51 6.51M864.49 755.25l6.51 -6.51M871.5 752h9.2M876.1 747.4v9.2M872.85 748.75l6.51 6.51M872.85 755.25l6.51 -6.51M879.87 752h9.2M884.47 747.4v9.2M881.22 748.75l6.51 6.51M881.22 755.25l6.51 -6.51M888.24 752h9.2M892.84 747.4v9.2M889.58 748.75l6.51 6.51M889.58 755.25l6.51 -6.51M896.6 752h9.2M901.2 747.4v9.2M897.95 748.75l6.51 6.51M897.95 755.25l6.51 -6.51M904.97 752h9.2M909.57 747.4v9.2M906.32 748.75l6.51 6.51M906.32 755.25l6.51 -6.51M913.33 752h9.2M917.93 747.4v9.2M914.68 748.75l6.51 6.51M914.68 755.25l6.51 -6.51M921.7 752h9.2M926.3 747.4v9.2M923.05 748.75l6.51 6.51M923.05 755.25l6.51 -6.51" fill="none" stroke="#000000" stroke-width="3"/>
</g>
<path d="M926.3 4.4V767" fill="none" stroke="#747474" stroke-width="1.7"/>
<path d="M89.7 5H927.1" fill="none" stroke="#7a7a7a" stroke-width="1.6"/>
<path d="M89.7 5V767H926.3" fill="none" stroke="#000" stroke-width="1.7"/>
<path d="M89.7 767v-8.6M89.7 5v8.6M257 767v-8.6M257 5v8.6M424.3 767v-8.6M424.3 5v8.6M591.7 767v-8.6M591.7 5v8.6M759 767v-8.6M759 5v8.6M925.8 767v-8.6M925.8 5v8.6" fill="none" stroke="#000" stroke-width="1.5"/>
<path d="M89.7 752h8.6M926.3 752h-8.6M89.7 678.8h8.6M926.3 678.8h-8.6M89.7 605.5h8.6M926.3 605.5h-8.6M89.7 532.2h8.6M926.3 532.2h-8.6M89.7 459h8.6M926.3 459h-8.6M89.7 385.8h8.6M926.3 385.8h-8.6M89.7 312.5h8.6M926.3 312.5h-8.6M89.7 239.2h8.6M926.3 239.2h-8.6M89.7 166h8.6M926.3 166h-8.6M89.7 92.8h8.6M926.3 92.8h-8.6M89.7 19.5h8.6M926.3 19.5h-8.6" fill="none" stroke="#000" stroke-width="1.3"/>
<g font-family='"Liberation Sans", sans-serif' font-size="29.7" fill="#000">
<text x="88.9" y="798.6" text-anchor="middle">0</text>
<text x="256.2" y="798.6" text-anchor="middle">10</text>
<text x="423.5" y="798.6" text-anchor="middle">20</text>
<text x="590.9" y="798.6" text-anchor="middle">30</text>
<text x="758.2" y="798.6" text-anchor="middle">40</text>
<text x="925.5" y="798.6" text-anchor="middle">50</text>
<text x="84.1" y="763.6" text-anchor="end">0</text>
<text x="84.1" y="690.4" text-anchor="end">0.1</text>
<text x="84.1" y="617.1" text-anchor="end">0.2</text>
<text x="84.1" y="543.9" text-anchor="end">0.3</text>
<text x="84.1" y="470.6" text-anchor="end">0.4</text>
<text x="84.1" y="397.4" text-anchor="end">0.5</text>
<text x="84.1" y="324.1" text-anchor="end">0.6</text>
<text x="84.1" y="250.8" text-anchor="end">0.7</text>
<text x="84.1" y="177.6" text-anchor="end">0.8</text>
<text x="84.1" y="104.3" text-anchor="end">0.9</text>
<text x="84.1" y="31.1" text-anchor="end">1</text>
</g>
<path d="M111.3 39.8H154.6" stroke="#0000ff" stroke-width="2.0" fill="none"/>
<path d="M128.95 39.8a4 4 0 1 0 8 0a4 4 0 1 0 -8 0Z" fill="none" stroke="#0000ff" stroke-width="3.8"/>
<path d="M111.3 93.4H154.6" stroke="#ff0000" stroke-width="3.4" fill="none"/>
<path d="M132.95 86.4L134.52 91.24L139.61 91.24L135.49 94.23L137.06 99.06L132.95 96.07L128.84 99.06L130.41 94.23L126.29 91.24L131.38 91.24Z" fill="#ff0000" stroke="#ff0000" stroke-width="1.6"/>
<path d="M111.3 147.1H154.6" stroke="#00ff00" stroke-width="3.0" fill="none"/>
<path d="M129.35 143.5L136.55 143.5L136.55 150.7L129.35 150.7Z" fill="none" stroke="#00ff00" stroke-width="3"/>
<path d="M111.3 201.2H154.6" stroke="#00ffff" stroke-width="3.0" fill="none" stroke-dasharray="8.5 9"/>
<path d="M132.95 194.4L138.55 201.2L132.95 208L127.35 201.2Z" fill="#00ffff" stroke="#00ffff" stroke-width="2"/>
<path d="M111.3 255H154.6" stroke="#ff00ff" stroke-width="3.0" fill="none" stroke-dasharray="8.5 9"/>
<path d="M126.75 252L139.15 252L132.95 262.4Z" fill="#ff00ff" stroke="#ff00ff" stroke-width="2.4"/>
<path d="M111.3 309.1H154.6" stroke="#000000" stroke-width="3.0" fill="none" stroke-dasharray="8.5 9"/>
<path d="M128.35 309.1h9.2M132.95 304.5v9.2M129.7 305.85l6.51 6.51M129.7 312.35l6.51 -6.51" fill="none" stroke="#000000" stroke-width="3"/>
<g font-family='"Liberation Sans", sans-serif' font-size="27.5" font-weight="bold" letter-spacing="0.8" fill="#000">
<text x="160.5" y="44.8">Mo:d<tspan letter-spacing="0" font-size="22" dy="14" dx="0.5">z</tspan><tspan letter-spacing="0" font-size="17.1" dy="-14.5">2</tspan></text>
<text x="160.5" y="98.4">Mo:d<tspan letter-spacing="0" font-size="22" dy="14" dx="0.5">x</tspan><tspan letter-spacing="0" font-size="17.1" dy="-14.5" dx="-0.5">2</tspan><tspan letter-spacing="0" font-size="22" dy="14.5" dx="2.5">−y</tspan><tspan letter-spacing="0" font-size="17.1" dy="-14.5" dx="0.5">2</tspan></text>
<text x="160.5" y="152.1">Mo:d<tspan letter-spacing="0" font-size="22" dy="14" dx="0.5">xy</tspan></text>
<text x="160.5" y="206.2">S:p<tspan letter-spacing="0" font-size="22" dy="14" dx="0.5">x</tspan></text>
<text x="160.5" y="260">S:p<tspan letter-spacing="0" font-size="22" dy="14" dx="0.5">y</tspan></text>
<text x="160.5" y="314.1">S:p<tspan letter-spacing="0" font-size="22" dy="14" dx="0.5">z</tspan></text>
</g>
<g font-family='"Liberation Sans", sans-serif' font-size="35" fill="#000">
<text x="474.3" y="831.2">x/a<tspan font-size="29.4" dy="17.2" dx="1.2">0</tspan></text>
<text transform="translate(28.2 388.4) rotate(-90)" text-anchor="middle" textLength="304.5" lengthAdjust="spacing">Normalized PLDOS</text>
</g>
<text x="815" y="76.2" font-family='"Liberation Sans", sans-serif' font-size="27" font-weight="bold">(a)</text>
<clipPath id="clipB"><rect x="1051.7" y="11.3" width="928.8" height="755.9"/></clipPath>
<g clip-path="url(#clipB)">
<path d="M1065.7 716.4L1083.7 739.7L1101.7 704.7L1119.7 710.6L1137.8 754.2L1155.8 655.3L1173.8 745.5L1191.8 677.8L1209.8 604.4L1227.8 754.2L1245.9 566.6L1263.9 562.2L1281.9 749.8L1299.9 423.3L1317.9 528.7L1335.9 723.7L1354 274.2L1372 514.2L1390 685.1L1408 143.3L1426 521.5L1444 637.8L1462.1 56L1480.1 546.9L1498.1 586.9L1516.1 26.9L1534.1 586.9L1552.1 546.9L1570.1 56L1588.2 637.8L1606.2 521.5L1624.2 143.3L1642.2 685.1L1660.2 514.2L1678.2 274.2L1696.3 723.7L1714.3 528.7L1732.3 423.3L1750.3 749.8L1768.3 562.2L1786.3 566.6L1804.4 754.2L1822.4 604.4L1840.4 677.8L1858.4 745.5L1876.4 655.3L1894.4 754.2L1912.5 710.6L1930.5 704.7L1948.5 739.7L1966.5 716.4M1074.7 712.7L1092.7 669.8L1110.7 754.2L1128.8 673.5L1146.8 721.5L1164.8 721.5L1182.8 629.1L1200.8 752L1218.8 629.1L1236.9 581.8L1254.9 754.2L1272.9 496L1290.9 543.3L1308.9 739.7L1326.9 346.9L1344.9 517.8L1363 705.5L1381 205.1L1399 514.2L1417 659.7L1435 96L1453 532.4L1471.1 612.4L1489.1 34.2L1507.1 565.1L1525.1 565.1L1543.1 34.2L1561.1 612.4L1579.2 532.4L1597.2 96L1615.2 659.7L1633.2 514.2L1651.2 205.1L1669.2 705.5L1687.3 517.8L1705.3 346.9L1723.3 739.7L1741.3 543.3L1759.3 496L1777.3 754.2L1795.3 581.8L1813.4 629.1L1831.4 752L1849.4 629.1L1867.4 721.5L1885.4 721.5L1903.4 673.5L1921.5 754.2L1939.5 669.8L1957.5 712.7" fill="none" stroke="#0000ff" stroke-width="4.3" stroke-linejoin="round"/>
<path d="M1065.7 715.7H1966.5" stroke="#0000ff" stroke-width="3.6" fill="none"/>
<path d="M1060.5 716.38a5.2 5.2 0 1 0 10.4 0a5.2 5.2 0 1 0 -10.4 0ZM1069.51 712.74a5.2 5.2 0 1 0 10.4 0a5.2 5.2 0 1 0 -10.4 0ZM1078.52 739.65a5.2 5.2 0 1 0 10.4 0a5.2 5.2 0 1 0 -10.4 0ZM1087.52 669.83a5.2 5.2 0 1 0 10.4 0a5.2 5.2 0 1 0 -10.4 0ZM1096.53 704.74a5.2 5.2 0 1 0 10.4 0a5.2 5.2 0 1 0 -10.4 0ZM1105.54 754.2a5.2 5.2 0 1 0 10.4 0a5.2 5.2 0 1 0 -10.4 0ZM1114.55 710.56a5.2 5.2 0 1 0 10.4 0a5.2 5.2 0 1 0 -10.4 0ZM1123.56 673.47a5.2 5.2 0 1 0 10.4 0a5.2 5.2 0 1 0 -10.4 0ZM1132.56 754.2a5.2 5.2 0 1 0 10.4 0a5.2 5.2 0 1 0 -10.4 0ZM1141.57 721.47a5.2 5.2 0 1 0 10.4 0a5.2 5.2 0 1 0 -10.4 0ZM1150.58 655.29a5.2 5.2 0 1 0 10.4 0a5.2 5.2 0 1 0 -10.4 0ZM1159.59 721.47a5.2 5.2 0 1 0 10.4 0a5.2 5.2 0 1 0 -10.4 0ZM1168.6 745.47a5.2 5.2 0 1 0 10.4 0a5.2 5.2 0 1 0 -10.4 0ZM1177.6 629.1a5.2 5.2 0 1 0 10.4 0a5.2 5.2 0 1 0 -10.4 0ZM1186.61 677.83a5.2 5.2 0 1 0 10.4 0a5.2 5.2 0 1 0 -10.4 0ZM1195.62 752.02a5.2 5.2 0 1 0 10.4 0a5.2 5.2 0 1 0 -10.4 0ZM1204.63 604.38a5.2 5.2 0 1 0 10.4 0a5.2 5.2 0 1 0 -10.4 0ZM1213.64 629.1a5.2 5.2 0 1 0 10.4 0a5.2 5.2 0 1 0 -10.4 0ZM1222.64 754.2a5.2 5.2 0 1 0 10.4 0a5.2 5.2 0 1 0 -10.4 0ZM1231.65 581.83a5.2 5.2 0 1 0 10.4 0a5.2 5.2 0 1 0 -10.4 0ZM1240.66 566.56a5.2 5.2 0 1 0 10.4 0a5.2 5.2 0 1 0 -10.4 0ZM1249.67 754.2a5.2 5.2 0 1 0 10.4 0a5.2 5.2 0 1 0 -10.4 0ZM1258.68 562.19a5.2 5.2 0 1 0 10.4 0a5.2 5.2 0 1 0 -10.4 0ZM1267.68 496.01a5.2 5.2 0 1 0 10.4 0a5.2 5.2 0 1 0 -10.4 0ZM1276.69 749.84a5.2 5.2 0 1 0 10.4 0a5.2 5.2 0 1 0 -10.4 0ZM1285.7 543.28a5.2 5.2 0 1 0 10.4 0a5.2 5.2 0 1 0 -10.4 0ZM1294.71 423.28a5.2 5.2 0 1 0 10.4 0a5.2 5.2 0 1 0 -10.4 0ZM1303.72 739.65a5.2 5.2 0 1 0 10.4 0a5.2 5.2 0 1 0 -10.4 0ZM1312.72 528.74a5.2 5.2 0 1 0 10.4 0a5.2 5.2 0 1 0 -10.4 0ZM1321.73 346.91a5.2 5.2 0 1 0 10.4 0a5.2 5.2 0 1 0 -10.4 0ZM1330.74 723.65a5.2 5.2 0 1 0 10.4 0a5.2 5.2 0 1 0 -10.4 0ZM1339.75 517.83a5.2 5.2 0 1 0 10.4 0a5.2 5.2 0 1 0 -10.4 0ZM1348.76 274.18a5.2 5.2 0 1 0 10.4 0a5.2 5.2 0 1 0 -10.4 0ZM1357.76 705.47a5.2 5.2 0 1 0 10.4 0a5.2 5.2 0 1 0 -10.4 0ZM1366.77 514.19a5.2 5.2 0 1 0 10.4 0a5.2 5.2 0 1 0 -10.4 0ZM1375.78 205.09a5.2 5.2 0 1 0 10.4 0a5.2 5.2 0 1 0 -10.4 0ZM1384.79 685.11a5.2 5.2 0 1 0 10.4 0a5.2 5.2 0 1 0 -10.4 0ZM1393.8 514.19a5.2 5.2 0 1 0 10.4 0a5.2 5.2 0 1 0 -10.4 0ZM1402.8 143.27a5.2 5.2 0 1 0 10.4 0a5.2 5.2 0 1 0 -10.4 0ZM1411.81 659.65a5.2 5.2 0 1 0 10.4 0a5.2 5.2 0 1 0 -10.4 0ZM1420.82 521.46a5.2 5.2 0 1 0 10.4 0a5.2 5.2 0 1 0 -10.4 0ZM1429.83 95.99a5.2 5.2 0 1 0 10.4 0a5.2 5.2 0 1 0 -10.4 0ZM1438.84 637.83a5.2 5.2 0 1 0 10.4 0a5.2 5.2 0 1 0 -10.4 0ZM1447.84 532.37a5.2 5.2 0 1 0 10.4 0a5.2 5.2 0 1 0 -10.4 0ZM1456.85 55.99a5.2 5.2 0 1 0 10.4 0a5.2 5.2 0 1 0 -10.4 0ZM1465.86 612.38a5.2 5.2 0 1 0 10.4 0a5.2 5.2 0 1 0 -10.4 0ZM1474.87 546.92a5.2 5.2 0 1 0 10.4 0a5.2 5.2 0 1 0 -10.4 0ZM1483.88 34.17a5.2 5.2 0 1 0 10.4 0a5.2 5.2 0 1 0 -10.4 0ZM1492.88 586.92a5.2 5.2 0 1 0 10.4 0a5.2 5.2 0 1 0 -10.4 0ZM1501.89 565.1a5.2 5.2 0 1 0 10.4 0a5.2 5.2 0 1 0 -10.4 0ZM1510.9 26.9a5.2 5.2 0 1 0 10.4 0a5.2 5.2 0 1 0 -10.4 0ZM1519.91 565.1a5.2 5.2 0 1 0 10.4 0a5.2 5.2 0 1 0 -10.4 0ZM1528.92 586.92a5.2 5.2 0 1 0 10.4 0a5.2 5.2 0 1 0 -10.4 0ZM1537.92 34.17a5.2 5.2 0 1 0 10.4 0a5.2 5.2 0 1 0 -10.4 0ZM1546.93 546.92a5.2 5.2 0 1 0 10.4 0a5.2 5.2 0 1 0 -10.4 0ZM1555.94 612.38a5.2 5.2 0 1 0 10.4 0a5.2 5.2 0 1 0 -10.4 0ZM1564.95 55.99a5.2 5.2 0 1 0 10.4 0a5.2 5.2 0 1 0 -10.4 0ZM1573.96 532.37a5.2 5.2 0 1 0 10.4 0a5.2 5.2 0 1 0 -10.4 0ZM1582.96 637.83a5.2 5.2 0 1 0 10.4 0a5.2 5.2 0 1 0 -10.4 0ZM1591.97 95.99a5.2 5.2 0 1 0 10.4 0a5.2 5.2 0 1 0 -10.4 0ZM1600.98 521.46a5.2 5.2 0 1 0 10.4 0a5.2 5.2 0 1 0 -10.4 0ZM1609.99 659.65a5.2 5.2 0 1 0 10.4 0a5.2 5.2 0 1 0 -10.4 0ZM1619 143.27a5.2 5.2 0 1 0 10.4 0a5.2 5.2 0 1 0 -10.4 0ZM1628 514.19a5.2 5.2 0 1 0 10.4 0a5.2 5.2 0 1 0 -10.4 0ZM1637.01 685.11a5.2 5.2 0 1 0 10.4 0a5.2 5.2 0 1 0 -10.4 0ZM1646.02 205.09a5.2 5.2 0 1 0 10.4 0a5.2 5.2 0 1 0 -10.4 0ZM1655.03 514.19a5.2 5.2 0 1 0 10.4 0a5.2 5.2 0 1 0 -10.4 0ZM1664.04 705.47a5.2 5.2 0 1 0 10.4 0a5.2 5.2 0 1 0 -10.4 0ZM1673.04 274.18a5.2 5.2 0 1 0 10.4 0a5.2 5.2 0 1 0 -10.4 0ZM1682.05 517.83a5.2 5.2 0 1 0 10.4 0a5.2 5.2 0 1 0 -10.4 0ZM1691.06 723.65a5.2 5.2 0 1 0 10.4 0a5.2 5.2 0 1 0 -10.4 0ZM1700.07 346.91a5.2 5.2 0 1 0 10.4 0a5.2 5.2 0 1 0 -10.4 0ZM1709.08 528.74a5.2 5.2 0 1 0 10.4 0a5.2 5.2 0 1 0 -10.4 0ZM1718.08 739.65a5.2 5.2 0 1 0 10.4 0a5.2 5.2 0 1 0 -10.4 0ZM1727.09 423.28a5.2 5.2 0 1 0 10.4 0a5.2 5.2 0 1 0 -10.4 0ZM1736.1 543.28a5.2 5.2 0 1 0 10.4 0a5.2 5.2 0 1 0 -10.4 0ZM1745.11 749.84a5.2 5.2 0 1 0 10.4 0a5.2 5.2 0 1 0 -10.4 0ZM1754.12 496.01a5.2 5.2 0 1 0 10.4 0a5.2 5.2 0 1 0 -10.4 0ZM1763.12 562.19a5.2 5.2 0 1 0 10.4 0a5.2 5.2 0 1 0 -10.4 0ZM1772.13 754.2a5.2 5.2 0 1 0 10.4 0a5.2 5.2 0 1 0 -10.4 0ZM1781.14 566.56a5.2 5.2 0 1 0 10.4 0a5.2 5.2 0 1 0 -10.4 0ZM1790.15 581.83a5.2 5.2 0 1 0 10.4 0a5.2 5.2 0 1 0 -10.4 0ZM1799.16 754.2a5.2 5.2 0 1 0 10.4 0a5.2 5.2 0 1 0 -10.4 0ZM1808.16 629.1a5.2 5.2 0 1 0 10.4 0a5.2 5.2 0 1 0 -10.4 0ZM1817.17 604.38a5.2 5.2 0 1 0 10.4 0a5.2 5.2 0 1 0 -10.4 0ZM1826.18 752.02a5.2 5.2 0 1 0 10.4 0a5.2 5.2 0 1 0 -10.4 0ZM1835.19 677.83a5.2 5.2 0 1 0 10.4 0a5.2 5.2 0 1 0 -10.4 0ZM1844.2 629.1a5.2 5.2 0 1 0 10.4 0a5.2 5.2 0 1 0 -10.4 0ZM1853.2 745.47a5.2 5.2 0 1 0 10.4 0a5.2 5.2 0 1 0 -10.4 0ZM1862.21 721.47a5.2 5.2 0 1 0 10.4 0a5.2 5.2 0 1 0 -10.4 0ZM1871.22 655.29a5.2 5.2 0 1 0 10.4 0a5.2 5.2 0 1 0 -10.4 0ZM1880.23 721.47a5.2 5.2 0 1 0 10.4 0a5.2 5.2 0 1 0 -10.4 0ZM1889.24 754.2a5.2 5.2 0 1 0 10.4 0a5.2 5.2 0 1 0 -10.4 0ZM1898.24 673.47a5.2 5.2 0 1 0 10.4 0a5.2 5.2 0 1 0 -10.4 0ZM1907.25 710.56a5.2 5.2 0 1 0 10.4 0a5.2 5.2 0 1 0 -10.4 0ZM1916.26 754.2a5.2 5.2 0 1 0 10.4 0a5.2 5.2 0 1 0 -10.4 0ZM1925.27 704.74a5.2 5.2 0 1 0 10.4 0a5.2 5.2 0 1 0 -10.4 0ZM1934.28 669.83a5.2 5.2 0 1 0 10.4 0a5.2 5.2 0 1 0 -10.4 0ZM1943.28 739.65a5.2 5.2 0 1 0 10.4 0a5.2 5.2 0 1 0 -10.4 0ZM1952.29 712.74a5.2 5.2 0 1 0 10.4 0a5.2 5.2 0 1 0 -10.4 0ZM1961.3 716.38a5.2 5.2 0 1 0 10.4 0a5.2 5.2 0 1 0 -10.4 0Z" fill="none" stroke="#0000ff" stroke-width="4.8"/>
<path d="M1065.7 754.2H1966.5" stroke="#ff0000" stroke-width="1.4" fill="none"/>
<path d="M1065.7 745.2L1067.72 751.42L1074.26 751.42L1068.97 755.26L1070.99 761.48L1065.7 757.64L1060.41 761.48L1062.43 755.26L1057.14 751.42L1063.68 751.42ZM1074.71 745.2L1076.73 751.42L1083.27 751.42L1077.98 755.26L1080 761.48L1074.71 757.64L1069.42 761.48L1071.44 755.26L1066.15 751.42L1072.69 751.42ZM1083.72 745.2L1085.74 751.42L1092.28 751.42L1086.99 755.26L1089.01 761.48L1083.72 757.64L1078.43 761.48L1080.45 755.26L1075.16 751.42L1081.7 751.42ZM1092.72 745.2L1094.74 751.42L1101.28 751.42L1095.99 755.26L1098.01 761.48L1092.72 757.64L1087.43 761.48L1089.45 755.26L1084.16 751.42L1090.7 751.42ZM1101.73 745.2L1103.75 751.42L1110.29 751.42L1105 755.26L1107.02 761.48L1101.73 757.64L1096.44 761.48L1098.46 755.26L1093.17 751.42L1099.71 751.42ZM1110.74 745.2L1112.76 751.42L1119.3 751.42L1114.01 755.26L1116.03 761.48L1110.74 757.64L1105.45 761.48L1107.47 755.26L1102.18 751.42L1108.72 751.42ZM1119.75 745.2L1121.77 751.42L1128.31 751.42L1123.02 755.26L1125.04 761.48L1119.75 757.64L1114.46 761.48L1116.48 755.26L1111.19 751.42L1117.73 751.42ZM1128.76 745.2L1130.78 751.42L1137.32 751.42L1132.03 755.26L1134.05 761.48L1128.76 757.64L1123.47 761.48L1125.49 755.26L1120.2 751.42L1126.74 751.42ZM1137.76 745.2L1139.78 751.42L1146.32 751.42L1141.03 755.26L1143.05 761.48L1137.76 757.64L1132.47 761.48L1134.49 755.26L1129.2 751.42L1135.74 751.42ZM1146.77 745.2L1148.79 751.42L1155.33 751.42L1150.04 755.26L1152.06 761.48L1146.77 757.64L1141.48 761.48L1143.5 755.26L1138.21 751.42L1144.75 751.42ZM1155.78 745.2L1157.8 751.42L1164.34 751.42L1159.05 755.26L1161.07 761.48L1155.78 757.64L1150.49 761.48L1152.51 755.26L1147.22 751.42L1153.76 751.42ZM1164.79 745.2L1166.81 751.42L1173.35 751.42L1168.06 755.26L1170.08 761.48L1164.79 757.64L1159.5 761.48L1161.52 755.26L1156.23 751.42L1162.77 751.42ZM1173.8 745.2L1175.82 751.42L1182.36 751.42L1177.07 755.26L1179.09 761.48L1173.8 757.64L1168.51 761.48L1170.53 755.26L1165.24 751.42L1171.78 751.42ZM1182.8 745.2L1184.82 751.42L1191.36 751.42L1186.07 755.26L1188.09 761.48L1182.8 757.64L1177.51 761.48L1179.53 755.26L1174.24 751.42L1180.78 751.42ZM1191.81 745.2L1193.83 751.42L1200.37 751.42L1195.08 755.26L1197.1 761.48L1191.81 757.64L1186.52 761.48L1188.54 755.26L1183.25 751.42L1189.79 751.42ZM1200.82 745.2L1202.84 751.42L1209.38 751.42L1204.09 755.26L1206.11 761.48L1200.82 757.64L1195.53 761.48L1197.55 755.26L1192.26 751.42L1198.8 751.42ZM1209.83 745.2L1211.85 751.42L1218.39 751.42L1213.1 755.26L1215.12 761.48L1209.83 757.64L1204.54 761.48L1206.56 755.26L1201.27 751.42L1207.81 751.42ZM1218.84 745.2L1220.86 751.42L1227.4 751.42L1222.11 755.26L1224.13 761.48L1218.84 757.64L1213.55 761.48L1215.57 755.26L1210.28 751.42L1216.82 751.42ZM1227.84 745.2L1229.86 751.42L1236.4 751.42L1231.11 755.26L1233.13 761.48L1227.84 757.64L1222.55 761.48L1224.57 755.26L1219.28 751.42L1225.82 751.42ZM1236.85 745.2L1238.87 751.42L1245.41 751.42L1240.12 755.26L1242.14 761.48L1236.85 757.64L1231.56 761.48L1233.58 755.26L1228.29 751.42L1234.83 751.42ZM1245.86 745.2L1247.88 751.42L1254.42 751.42L1249.13 755.26L1251.15 761.48L1245.86 757.64L1240.57 761.48L1242.59 755.26L1237.3 751.42L1243.84 751.42ZM1254.87 745.2L1256.89 751.42L1263.43 751.42L1258.14 755.26L1260.16 761.48L1254.87 757.64L1249.58 761.48L1251.6 755.26L1246.31 751.42L1252.85 751.42ZM1263.88 745.2L1265.9 751.42L1272.44 751.42L1267.15 755.26L1269.17 761.48L1263.88 757.64L1258.59 761.48L1260.61 755.26L1255.32 751.42L1261.86 751.42ZM1272.88 745.2L1274.9 751.42L1281.44 751.42L1276.15 755.26L1278.17 761.48L1272.88 757.64L1267.59 761.48L1269.61 755.26L1264.32 751.42L1270.86 751.42ZM1281.89 745.2L1283.91 751.42L1290.45 751.42L1285.16 755.26L1287.18 761.48L1281.89 757.64L1276.6 761.48L1278.62 755.26L1273.33 751.42L1279.87 751.42ZM1290.9 745.2L1292.92 751.42L1299.46 751.42L1294.17 755.26L1296.19 761.48L1290.9 757.64L1285.61 761.48L1287.63 755.26L1282.34 751.42L1288.88 751.42ZM1299.91 745.2L1301.93 751.42L1308.47 751.42L1303.18 755.26L1305.2 761.48L1299.91 757.64L1294.62 761.48L1296.64 755.26L1291.35 751.42L1297.89 751.42ZM1308.92 745.2L1310.94 751.42L1317.48 751.42L1312.19 755.26L1314.21 761.48L1308.92 757.64L1303.63 761.48L1305.65 755.26L1300.36 751.42L1306.9 751.42ZM1317.92 745.2L1319.94 751.42L1326.48 751.42L1321.19 755.26L1323.21 761.48L1317.92 757.64L1312.63 761.48L1314.65 755.26L1309.36 751.42L1315.9 751.42ZM1326.93 745.2L1328.95 751.42L1335.49 751.42L1330.2 755.26L1332.22 761.48L1326.93 757.64L1321.64 761.48L1323.66 755.26L1318.37 751.42L1324.91 751.42ZM1335.94 745.2L1337.96 751.42L1344.5 751.42L1339.21 755.26L1341.23 761.48L1335.94 757.64L1330.65 761.48L1332.67 755.26L1327.38 751.42L1333.92 751.42ZM1344.95 745.2L1346.97 751.42L1353.51 751.42L1348.22 755.26L1350.24 761.48L1344.95 757.64L1339.66 761.48L1341.68 755.26L1336.39 751.42L1342.93 751.42ZM1353.96 745.2L1355.98 751.42L1362.52 751.42L1357.23 755.26L1359.25 761.48L1353.96 757.64L1348.67 761.48L1350.69 755.26L1345.4 751.42L1351.94 751.42ZM1362.96 745.2L1364.98 751.42L1371.52 751.42L1366.23 755.26L1368.25 761.48L1362.96 757.64L1357.67 761.48L1359.69 755.26L1354.4 751.42L1360.94 751.42ZM1371.97 745.2L1373.99 751.42L1380.53 751.42L1375.24 755.26L1377.26 761.48L1371.97 757.64L1366.68 761.48L1368.7 755.26L1363.41 751.42L1369.95 751.42ZM1380.98 745.2L1383 751.42L1389.54 751.42L1384.25 755.26L1386.27 761.48L1380.98 757.64L1375.69 761.48L1377.71 755.26L1372.42 751.42L1378.96 751.42ZM1389.99 745.2L1392.01 751.42L1398.55 751.42L1393.26 755.26L1395.28 761.48L1389.99 757.64L1384.7 761.48L1386.72 755.26L1381.43 751.42L1387.97 751.42ZM1399 745.2L1401.02 751.42L1407.56 751.42L1402.27 755.26L1404.29 761.48L1399 757.64L1393.71 761.48L1395.73 755.26L1390.44 751.42L1396.98 751.42ZM1408 745.2L1410.02 751.42L1416.56 751.42L1411.27 755.26L1413.29 761.48L1408 757.64L1402.71 761.48L1404.73 755.26L1399.44 751.42L1405.98 751.42ZM1417.01 745.2L1419.03 751.42L1425.57 751.42L1420.28 755.26L1422.3 761.48L1417.01 757.64L1411.72 761.48L1413.74 755.26L1408.45 751.42L1414.99 751.42ZM1426.02 745.2L1428.04 751.42L1434.58 751.42L1429.29 755.26L1431.31 761.48L1426.02 757.64L1420.73 761.48L1422.75 755.26L1417.46 751.42L1424 751.42ZM1435.03 745.2L1437.05 751.42L1443.59 751.42L1438.3 755.26L1440.32 761.48L1435.03 757.64L1429.74 761.48L1431.76 755.26L1426.47 751.42L1433.01 751.42ZM1444.04 745.2L1446.06 751.42L1452.6 751.42L1447.31 755.26L1449.33 761.48L1444.04 757.64L1438.75 761.48L1440.77 755.26L1435.48 751.42L1442.02 751.42ZM1453.04 745.2L1455.06 751.42L1461.6 751.42L1456.31 755.26L1458.33 761.48L1453.04 757.64L1447.75 761.48L1449.77 755.26L1444.48 751.42L1451.02 751.42ZM1462.05 745.2L1464.07 751.42L1470.61 751.42L1465.32 755.26L1467.34 761.48L1462.05 757.64L1456.76 761.48L1458.78 755.26L1453.49 751.42L1460.03 751.42ZM1471.06 745.2L1473.08 751.42L1479.62 751.42L1474.33 755.26L1476.35 761.48L1471.06 757.64L1465.77 761.48L1467.79 755.26L1462.5 751.42L1469.04 751.42ZM1480.07 745.2L1482.09 751.42L1488.63 751.42L1483.34 755.26L1485.36 761.48L1480.07 757.64L1474.78 761.48L1476.8 755.26L1471.51 751.42L1478.05 751.42ZM1489.08 745.2L1491.1 751.42L1497.64 751.42L1492.35 755.26L1494.37 761.48L1489.08 757.64L1483.79 761.48L1485.81 755.26L1480.52 751.42L1487.06 751.42ZM1498.08 745.2L1500.1 751.42L1506.64 751.42L1501.35 755.26L1503.37 761.48L1498.08 757.64L1492.79 761.48L1494.81 755.26L1489.52 751.42L1496.06 751.42ZM1507.09 745.2L1509.11 751.42L1515.65 751.42L1510.36 755.26L1512.38 761.48L1507.09 757.64L1501.8 761.48L1503.82 755.26L1498.53 751.42L1505.07 751.42ZM1516.1 745.2L1518.12 751.42L1524.66 751.42L1519.37 755.26L1521.39 761.48L1516.1 757.64L1510.81 761.48L1512.83 755.26L1507.54 751.42L1514.08 751.42ZM1525.11 745.2L1527.13 751.42L1533.67 751.42L1528.38 755.26L1530.4 761.48L1525.11 757.64L1519.82 761.48L1521.84 755.26L1516.55 751.42L1523.09 751.42ZM1534.12 745.2L1536.14 751.42L1542.68 751.42L1537.39 755.26L1539.41 761.48L1534.12 757.64L1528.83 761.48L1530.85 755.26L1525.56 751.42L1532.1 751.42ZM1543.12 745.2L1545.14 751.42L1551.68 751.42L1546.39 755.26L1548.41 761.48L1543.12 757.64L1537.83 761.48L1539.85 755.26L1534.56 751.42L1541.1 751.42ZM1552.13 745.2L1554.15 751.42L1560.69 751.42L1555.4 755.26L1557.42 761.48L1552.13 757.64L1546.84 761.48L1548.86 755.26L1543.57 751.42L1550.11 751.42ZM1561.14 745.2L1563.16 751.42L1569.7 751.42L1564.41 755.26L1566.43 761.48L1561.14 757.64L1555.85 761.48L1557.87 755.26L1552.58 751.42L1559.12 751.42ZM1570.15 745.2L1572.17 751.42L1578.71 751.42L1573.42 755.26L1575.44 761.48L1570.15 757.64L1564.86 761.48L1566.88 755.26L1561.59 751.42L1568.13 751.42ZM1579.16 745.2L1581.18 751.42L1587.72 751.42L1582.43 755.26L1584.45 761.48L1579.16 757.64L1573.87 761.48L1575.89 755.26L1570.6 751.42L1577.14 751.42ZM1588.16 745.2L1590.18 751.42L1596.72 751.42L1591.43 755.26L1593.45 761.48L1588.16 757.64L1582.87 761.48L1584.89 755.26L1579.6 751.42L1586.14 751.42ZM1597.17 745.2L1599.19 751.42L1605.73 751.42L1600.44 755.26L1602.46 761.48L1597.17 757.64L1591.88 761.48L1593.9 755.26L1588.61 751.42L1595.15 751.42ZM1606.18 745.2L1608.2 751.42L1614.74 751.42L1609.45 755.26L1611.47 761.48L1606.18 757.64L1600.89 761.48L1602.91 755.26L1597.62 751.42L1604.16 751.42ZM1615.19 745.2L1617.21 751.42L1623.75 751.42L1618.46 755.26L1620.48 761.48L1615.19 757.64L1609.9 761.48L1611.92 755.26L1606.63 751.42L1613.17 751.42ZM1624.2 745.2L1626.22 751.42L1632.76 751.42L1627.47 755.26L1629.49 761.48L1624.2 757.64L1618.91 761.48L1620.93 755.26L1615.64 751.42L1622.18 751.42ZM1633.2 745.2L1635.22 751.42L1641.76 751.42L1636.47 755.26L1638.49 761.48L1633.2 757.64L1627.91 761.48L1629.93 755.26L1624.64 751.42L1631.18 751.42ZM1642.21 745.2L1644.23 751.42L1650.77 751.42L1645.48 755.26L1647.5 761.48L1642.21 757.64L1636.92 761.48L1638.94 755.26L1633.65 751.42L1640.19 751.42ZM1651.22 745.2L1653.24 751.42L1659.78 751.42L1654.49 755.26L1656.51 761.48L1651.22 757.64L1645.93 761.48L1647.95 755.26L1642.66 751.42L1649.2 751.42ZM1660.23 745.2L1662.25 751.42L1668.79 751.42L1663.5 755.26L1665.52 761.48L1660.23 757.64L1654.94 761.48L1656.96 755.26L1651.67 751.42L1658.21 751.42ZM1669.24 745.2L1671.26 751.42L1677.8 751.42L1672.51 755.26L1674.53 761.48L1669.24 757.64L1663.95 761.48L1665.97 755.26L1660.68 751.42L1667.22 751.42ZM1678.24 745.2L1680.26 751.42L1686.8 751.42L1681.51 755.26L1683.53 761.48L1678.24 757.64L1672.95 761.48L1674.97 755.26L1669.68 751.42L1676.22 751.42ZM1687.25 745.2L1689.27 751.42L1695.81 751.42L1690.52 755.26L1692.54 761.48L1687.25 757.64L1681.96 761.48L1683.98 755.26L1678.69 751.42L1685.23 751.42ZM1696.26 745.2L1698.28 751.42L1704.82 751.42L1699.53 755.26L1701.55 761.48L1696.26 757.64L1690.97 761.48L1692.99 755.26L1687.7 751.42L1694.24 751.42ZM1705.27 745.2L1707.29 751.42L1713.83 751.42L1708.54 755.26L1710.56 761.48L1705.27 757.64L1699.98 761.48L1702 755.26L1696.71 751.42L1703.25 751.42ZM1714.28 745.2L1716.3 751.42L1722.84 751.42L1717.55 755.26L1719.57 761.48L1714.28 757.64L1708.99 761.48L1711.01 755.26L1705.72 751.42L1712.26 751.42ZM1723.28 745.2L1725.3 751.42L1731.84 751.42L1726.55 755.26L1728.57 761.48L1723.28 757.64L1717.99 761.48L1720.01 755.26L1714.72 751.42L1721.26 751.42ZM1732.29 745.2L1734.31 751.42L1740.85 751.42L1735.56 755.26L1737.58 761.48L1732.29 757.64L1727 761.48L1729.02 755.26L1723.73 751.42L1730.27 751.42ZM1741.3 745.2L1743.32 751.42L1749.86 751.42L1744.57 755.26L1746.59 761.48L1741.3 757.64L1736.01 761.48L1738.03 755.26L1732.74 751.42L1739.28 751.42ZM1750.31 745.2L1752.33 751.42L1758.87 751.42L1753.58 755.26L1755.6 761.48L1750.31 757.64L1745.02 761.48L1747.04 755.26L1741.75 751.42L1748.29 751.42ZM1759.32 745.2L1761.34 751.42L1767.88 751.42L1762.59 755.26L1764.61 761.48L1759.32 757.64L1754.03 761.48L1756.05 755.26L1750.76 751.42L1757.3 751.42ZM1768.32 745.2L1770.34 751.42L1776.88 751.42L1771.59 755.26L1773.61 761.48L1768.32 757.64L1763.03 761.48L1765.05 755.26L1759.76 751.42L1766.3 751.42ZM1777.33 745.2L1779.35 751.42L1785.89 751.42L1780.6 755.26L1782.62 761.48L1777.33 757.64L1772.04 761.48L1774.06 755.26L1768.77 751.42L1775.31 751.42ZM1786.34 745.2L1788.36 751.42L1794.9 751.42L1789.61 755.26L1791.63 761.48L1786.34 757.64L1781.05 761.48L1783.07 755.26L1777.78 751.42L1784.32 751.42ZM1795.35 745.2L1797.37 751.42L1803.91 751.42L1798.62 755.26L1800.64 761.48L1795.35 757.64L1790.06 761.48L1792.08 755.26L1786.79 751.42L1793.33 751.42ZM1804.36 745.2L1806.38 751.42L1812.92 751.42L1807.63 755.26L1809.65 761.48L1804.36 757.64L1799.07 761.48L1801.09 755.26L1795.8 751.42L1802.34 751.42ZM1813.36 745.2L1815.38 751.42L1821.92 751.42L1816.63 755.26L1818.65 761.48L1813.36 757.64L1808.07 761.48L1810.09 755.26L1804.8 751.42L1811.34 751.42ZM1822.37 745.2L1824.39 751.42L1830.93 751.42L1825.64 755.26L1827.66 761.48L1822.37 757.64L1817.08 761.48L1819.1 755.26L1813.81 751.42L1820.35 751.42ZM1831.38 745.2L1833.4 751.42L1839.94 751.42L1834.65 755.26L1836.67 761.48L1831.38 757.64L1826.09 761.48L1828.11 755.26L1822.82 751.42L1829.36 751.42ZM1840.39 745.2L1842.41 751.42L1848.95 751.42L1843.66 755.26L1845.68 761.48L1840.39 757.64L1835.1 761.48L1837.12 755.26L1831.83 751.42L1838.37 751.42ZM1849.4 745.2L1851.42 751.42L1857.96 751.42L1852.67 755.26L1854.69 761.48L1849.4 757.64L1844.11 761.48L1846.13 755.26L1840.84 751.42L1847.38 751.42ZM1858.4 745.2L1860.42 751.42L1866.96 751.42L1861.67 755.26L1863.69 761.48L1858.4 757.64L1853.11 761.48L1855.13 755.26L1849.84 751.42L1856.38 751.42ZM1867.41 745.2L1869.43 751.42L1875.97 751.42L1870.68 755.26L1872.7 761.48L1867.41 757.64L1862.12 761.48L1864.14 755.26L1858.85 751.42L1865.39 751.42ZM1876.42 745.2L1878.44 751.42L1884.98 751.42L1879.69 755.26L1881.71 761.48L1876.42 757.64L1871.13 761.48L1873.15 755.26L1867.86 751.42L1874.4 751.42ZM1885.43 745.2L1887.45 751.42L1893.99 751.42L1888.7 755.26L1890.72 761.48L1885.43 757.64L1880.14 761.48L1882.16 755.26L1876.87 751.42L1883.41 751.42ZM1894.44 745.2L1896.46 751.42L1903 751.42L1897.71 755.26L1899.73 761.48L1894.44 757.64L1889.15 761.48L1891.17 755.26L1885.88 751.42L1892.42 751.42ZM1903.44 745.2L1905.46 751.42L1912 751.42L1906.71 755.26L1908.73 761.48L1903.44 757.64L1898.15 761.48L1900.17 755.26L1894.88 751.42L1901.42 751.42ZM1912.45 745.2L1914.47 751.42L1921.01 751.42L1915.72 755.26L1917.74 761.48L1912.45 757.64L1907.16 761.48L1909.18 755.26L1903.89 751.42L1910.43 751.42ZM1921.46 745.2L1923.48 751.42L1930.02 751.42L1924.73 755.26L1926.75 761.48L1921.46 757.64L1916.17 761.48L1918.19 755.26L1912.9 751.42L1919.44 751.42ZM1930.47 745.2L1932.49 751.42L1939.03 751.42L1933.74 755.26L1935.76 761.48L1930.47 757.64L1925.18 761.48L1927.2 755.26L1921.91 751.42L1928.45 751.42ZM1939.48 745.2L1941.5 751.42L1948.04 751.42L1942.75 755.26L1944.77 761.48L1939.48 757.64L1934.19 761.48L1936.21 755.26L1930.92 751.42L1937.46 751.42ZM1948.48 745.2L1950.5 751.42L1957.04 751.42L1951.75 755.26L1953.77 761.48L1948.48 757.64L1943.19 761.48L1945.21 755.26L1939.92 751.42L1946.46 751.42ZM1957.49 745.2L1959.51 751.42L1966.05 751.42L1960.76 755.26L1962.78 761.48L1957.49 757.64L1952.2 761.48L1954.22 755.26L1948.93 751.42L1955.47 751.42ZM1966.5 745.2L1968.52 751.42L1975.06 751.42L1969.77 755.26L1971.79 761.48L1966.5 757.64L1961.21 761.48L1963.23 755.26L1957.94 751.42L1964.48 751.42Z" fill="#ff0000" stroke="#ff0000" stroke-width="1.2"/>
<path d="M1065.7 721.5L1076.5 740.4L1966.5 722.2L1966.5 721.5L1955.7 754.2" stroke="#00ff00" stroke-width="3.4" fill="none" stroke-linejoin="round"/>
<path d="M1060.7 716.47L1070.7 716.47L1070.7 726.47L1060.7 726.47ZM1069.71 735.38L1079.71 735.38L1079.71 745.38L1069.71 745.38ZM1078.72 749.2L1088.72 749.2L1088.72 759.2L1078.72 759.2ZM1087.72 749.2L1097.72 749.2L1097.72 759.2L1087.72 759.2ZM1096.73 749.2L1106.73 749.2L1106.73 759.2L1096.73 759.2ZM1105.74 749.2L1115.74 749.2L1115.74 759.2L1105.74 759.2ZM1114.75 749.2L1124.75 749.2L1124.75 759.2L1114.75 759.2ZM1123.76 749.2L1133.76 749.2L1133.76 759.2L1123.76 759.2ZM1132.76 749.2L1142.76 749.2L1142.76 759.2L1132.76 759.2ZM1141.77 749.2L1151.77 749.2L1151.77 759.2L1141.77 759.2ZM1150.78 749.2L1160.78 749.2L1160.78 759.2L1150.78 759.2ZM1159.79 749.2L1169.79 749.2L1169.79 759.2L1159.79 759.2ZM1168.8 749.2L1178.8 749.2L1178.8 759.2L1168.8 759.2ZM1177.8 749.2L1187.8 749.2L1187.8 759.2L1177.8 759.2ZM1186.81 749.2L1196.81 749.2L1196.81 759.2L1186.81 759.2ZM1195.82 749.2L1205.82 749.2L1205.82 759.2L1195.82 759.2ZM1204.83 749.2L1214.83 749.2L1214.83 759.2L1204.83 759.2ZM1213.84 749.2L1223.84 749.2L1223.84 759.2L1213.84 759.2ZM1222.84 749.2L1232.84 749.2L1232.84 759.2L1222.84 759.2ZM1231.85 749.2L1241.85 749.2L1241.85 759.2L1231.85 759.2ZM1240.86 749.2L1250.86 749.2L1250.86 759.2L1240.86 759.2ZM1249.87 749.2L1259.87 749.2L1259.87 759.2L1249.87 759.2ZM1258.88 749.2L1268.88 749.2L1268.88 759.2L1258.88 759.2ZM1267.88 749.2L1277.88 749.2L1277.88 759.2L1267.88 759.2ZM1276.89 749.2L1286.89 749.2L1286.89 759.2L1276.89 759.2ZM1285.9 749.2L1295.9 749.2L1295.9 759.2L1285.9 759.2ZM1294.91 749.2L1304.91 749.2L1304.91 759.2L1294.91 759.2ZM1303.92 749.2L1313.92 749.2L1313.92 759.2L1303.92 759.2ZM1312.92 749.2L1322.92 749.2L1322.92 759.2L1312.92 759.2ZM1321.93 749.2L1331.93 749.2L1331.93 759.2L1321.93 759.2ZM1330.94 749.2L1340.94 749.2L1340.94 759.2L1330.94 759.2ZM1339.95 749.2L1349.95 749.2L1349.95 759.2L1339.95 759.2ZM1348.96 749.2L1358.96 749.2L1358.96 759.2L1348.96 759.2ZM1357.96 749.2L1367.96 749.2L1367.96 759.2L1357.96 759.2ZM1366.97 749.2L1376.97 749.2L1376.97 759.2L1366.97 759.2ZM1375.98 749.2L1385.98 749.2L1385.98 759.2L1375.98 759.2ZM1384.99 749.2L1394.99 749.2L1394.99 759.2L1384.99 759.2ZM1394 749.2L1404 749.2L1404 759.2L1394 759.2ZM1403 749.2L1413 749.2L1413 759.2L1403 759.2ZM1412.01 749.2L1422.01 749.2L1422.01 759.2L1412.01 759.2ZM1421.02 749.2L1431.02 749.2L1431.02 759.2L1421.02 759.2ZM1430.03 749.2L1440.03 749.2L1440.03 759.2L1430.03 759.2ZM1439.04 749.2L1449.04 749.2L1449.04 759.2L1439.04 759.2ZM1448.04 749.2L1458.04 749.2L1458.04 759.2L1448.04 759.2ZM1457.05 749.2L1467.05 749.2L1467.05 759.2L1457.05 759.2ZM1466.06 749.2L1476.06 749.2L1476.06 759.2L1466.06 759.2ZM1475.07 749.2L1485.07 749.2L1485.07 759.2L1475.07 759.2ZM1484.08 749.2L1494.08 749.2L1494.08 759.2L1484.08 759.2ZM1493.08 749.2L1503.08 749.2L1503.08 759.2L1493.08 759.2ZM1502.09 749.2L1512.09 749.2L1512.09 759.2L1502.09 759.2ZM1511.1 749.2L1521.1 749.2L1521.1 759.2L1511.1 759.2ZM1520.11 749.2L1530.11 749.2L1530.11 759.2L1520.11 759.2ZM1529.12 749.2L1539.12 749.2L1539.12 759.2L1529.12 759.2ZM1538.12 749.2L1548.12 749.2L1548.12 759.2L1538.12 759.2ZM1547.13 749.2L1557.13 749.2L1557.13 759.2L1547.13 759.2ZM1556.14 749.2L1566.14 749.2L1566.14 759.2L1556.14 759.2ZM1565.15 749.2L1575.15 749.2L1575.15 759.2L1565.15 759.2ZM1574.16 749.2L1584.16 749.2L1584.16 759.2L1574.16 759.2ZM1583.16 749.2L1593.16 749.2L1593.16 759.2L1583.16 759.2ZM1592.17 749.2L1602.17 749.2L1602.17 759.2L1592.17 759.2ZM1601.18 749.2L1611.18 749.2L1611.18 759.2L1601.18 759.2ZM1610.19 749.2L1620.19 749.2L1620.19 759.2L1610.19 759.2ZM1619.2 749.2L1629.2 749.2L1629.2 759.2L1619.2 759.2ZM1628.2 749.2L1638.2 749.2L1638.2 759.2L1628.2 759.2ZM1637.21 749.2L1647.21 749.2L1647.21 759.2L1637.21 759.2ZM1646.22 749.2L1656.22 749.2L1656.22 759.2L1646.22 759.2ZM1655.23 749.2L1665.23 749.2L1665.23 759.2L1655.23 759.2ZM1664.24 749.2L1674.24 749.2L1674.24 759.2L1664.24 759.2ZM1673.24 749.2L1683.24 749.2L1683.24 759.2L1673.24 759.2ZM1682.25 749.2L1692.25 749.2L1692.25 759.2L1682.25 759.2ZM1691.26 749.2L1701.26 749.2L1701.26 759.2L1691.26 759.2ZM1700.27 749.2L1710.27 749.2L1710.27 759.2L1700.27 759.2ZM1709.28 749.2L1719.28 749.2L1719.28 759.2L1709.28 759.2ZM1718.28 749.2L1728.28 749.2L1728.28 759.2L1718.28 759.2ZM1727.29 749.2L1737.29 749.2L1737.29 759.2L1727.29 759.2ZM1736.3 749.2L1746.3 749.2L1746.3 759.2L1736.3 759.2ZM1745.31 749.2L1755.31 749.2L1755.31 759.2L1745.31 759.2ZM1754.32 749.2L1764.32 749.2L1764.32 759.2L1754.32 759.2ZM1763.32 749.2L1773.32 749.2L1773.32 759.2L1763.32 759.2ZM1772.33 749.2L1782.33 749.2L1782.33 759.2L1772.33 759.2ZM1781.34 749.2L1791.34 749.2L1791.34 759.2L1781.34 759.2ZM1790.35 749.2L1800.35 749.2L1800.35 759.2L1790.35 759.2ZM1799.36 749.2L1809.36 749.2L1809.36 759.2L1799.36 759.2ZM1808.36 749.2L1818.36 749.2L1818.36 759.2L1808.36 759.2ZM1817.37 749.2L1827.37 749.2L1827.37 759.2L1817.37 759.2ZM1826.38 749.2L1836.38 749.2L1836.38 759.2L1826.38 759.2ZM1835.39 749.2L1845.39 749.2L1845.39 759.2L1835.39 759.2ZM1844.4 749.2L1854.4 749.2L1854.4 759.2L1844.4 759.2ZM1853.4 749.2L1863.4 749.2L1863.4 759.2L1853.4 759.2ZM1862.41 749.2L1872.41 749.2L1872.41 759.2L1862.41 759.2ZM1871.42 749.2L1881.42 749.2L1881.42 759.2L1871.42 759.2ZM1880.43 749.2L1890.43 749.2L1890.43 759.2L1880.43 759.2ZM1889.44 749.2L1899.44 749.2L1899.44 759.2L1889.44 759.2ZM1898.44 749.2L1908.44 749.2L1908.44 759.2L1898.44 759.2ZM1907.45 749.2L1917.45 749.2L1917.45 759.2L1907.45 759.2ZM1916.46 749.2L1926.46 749.2L1926.46 759.2L1916.46 759.2ZM1925.47 749.2L1935.47 749.2L1935.47 759.2L1925.47 759.2ZM1934.48 749.2L1944.48 749.2L1944.48 759.2L1934.48 759.2ZM1943.48 749.2L1953.48 749.2L1953.48 759.2L1943.48 759.2ZM1952.49 749.2L1962.49 749.2L1962.49 759.2L1952.49 759.2ZM1961.5 716.47L1971.5 716.47L1971.5 726.47L1961.5 726.47Z" fill="none" stroke="#00ff00" stroke-width="3"/>
<path d="M1065.7 754.2L1083.7 727.3L1101.7 748.4L1119.7 754.2L1137.8 733.8L1155.8 754.2L1173.8 739.7L1191.8 744.8L1209.8 750.2L1227.8 721.9L1245.9 743.6L1263.9 737.7L1281.9 703L1299.9 745L1317.9 722.6L1335.9 687.1L1354 747.8L1372 706.2L1390 675.3L1408 751.2L1426 690.6L1444 669.7L1462.1 753.6L1480.1 678.4L1498.1 671.2L1516.1 754.2L1534.1 671.2L1552.1 678.4L1570.1 753.6L1588.2 669.7L1606.2 690.6L1624.2 751.2L1642.2 675.3L1660.2 706.2L1678.2 747.8L1696.3 687.1L1714.3 722.6L1732.3 745L1750.3 703L1768.3 737.7L1786.3 743.6L1804.4 721.9L1822.4 750.2L1840.4 744.8L1858.4 739.7L1876.4 754.2L1894.4 733.8L1912.5 754.2L1930.5 748.4L1948.5 727.3L1966.5 754.2M1074.7 751.3L1092.7 754.2L1110.7 739.7L1128.8 754.2L1146.8 749.7L1164.8 745.6L1182.8 754.2L1200.8 731L1218.8 743.6L1236.9 744.5L1254.9 712.4L1272.9 744.2L1290.9 730.4L1308.9 694.5L1326.9 746.4L1344.9 714.6L1363 680.6L1381 749.5L1399 698.3L1417 672.1L1435 752.1L1453 683.9L1471.1 669.6L1489.1 754.1L1507.1 674.1L1525.1 674.1L1543.1 754.1L1561.1 669.6L1579.2 683.9L1597.2 752.1L1615.2 672.1L1633.2 698.3L1651.2 749.5L1669.2 680.6L1687.3 714.6L1705.3 746.4L1723.3 694.5L1741.3 730.4L1759.3 744.2L1777.3 712.4L1795.3 744.5L1813.4 743.6L1831.4 731L1849.4 754.2L1867.4 745.6L1885.4 749.7L1903.4 754.2L1921.5 739.7L1939.5 754.2L1957.5 751.3" fill="none" stroke="#00ffff" stroke-width="4" stroke-linejoin="round" stroke-dasharray="9 7"/>
<path d="M1065.7 747.4L1070.5 754.2L1065.7 761L1060.9 754.2ZM1074.71 744.49L1079.51 751.29L1074.71 758.09L1069.91 751.29ZM1083.72 720.49L1088.52 727.29L1083.72 734.09L1078.92 727.29ZM1092.72 747.4L1097.52 754.2L1092.72 761L1087.92 754.2ZM1101.73 741.58L1106.53 748.38L1101.73 755.18L1096.93 748.38ZM1110.74 732.85L1115.54 739.65L1110.74 746.45L1105.94 739.65ZM1119.75 747.4L1124.55 754.2L1119.75 761L1114.95 754.2ZM1128.76 747.4L1133.56 754.2L1128.76 761L1123.96 754.2ZM1137.76 727.04L1142.56 733.84L1137.76 740.64L1132.96 733.84ZM1146.77 742.93L1151.57 749.73L1146.77 756.53L1141.97 749.73ZM1155.78 747.4L1160.58 754.2L1155.78 761L1150.98 754.2ZM1164.79 738.82L1169.59 745.62L1164.79 752.42L1159.99 745.62ZM1173.8 732.95L1178.6 739.75L1173.8 746.55L1169 739.75ZM1182.8 747.4L1187.6 754.2L1182.8 761L1178 754.2ZM1191.81 738L1196.61 744.8L1191.81 751.6L1187.01 744.8ZM1200.82 724.24L1205.62 731.04L1200.82 737.84L1196.02 731.04ZM1209.83 743.4L1214.63 750.2L1209.83 757L1205.03 750.2ZM1218.84 736.78L1223.64 743.58L1218.84 750.38L1214.04 743.58ZM1227.84 715.11L1232.64 721.91L1227.84 728.71L1223.04 721.91ZM1236.85 737.68L1241.65 744.48L1236.85 751.28L1232.05 744.48ZM1245.86 736.76L1250.66 743.56L1245.86 750.36L1241.06 743.56ZM1254.87 705.55L1259.67 712.35L1254.87 719.15L1250.07 712.35ZM1263.88 730.87L1268.68 737.67L1263.88 744.47L1259.08 737.67ZM1272.88 737.4L1277.68 744.2L1272.88 751L1268.08 744.2ZM1281.89 696.22L1286.69 703.02L1281.89 709.82L1277.09 703.02ZM1290.9 723.63L1295.7 730.43L1290.9 737.23L1286.1 730.43ZM1299.91 738.15L1304.71 744.95L1299.91 751.75L1295.11 744.95ZM1308.92 687.67L1313.72 694.47L1308.92 701.27L1304.12 694.47ZM1317.92 715.79L1322.72 722.59L1317.92 729.39L1313.12 722.59ZM1326.93 739.61L1331.73 746.41L1326.93 753.21L1322.13 746.41ZM1335.94 680.26L1340.74 687.06L1335.94 693.86L1331.14 687.06ZM1344.95 707.78L1349.75 714.58L1344.95 721.38L1340.15 714.58ZM1353.96 741.01L1358.76 747.81L1353.96 754.61L1349.16 747.81ZM1362.96 673.77L1367.76 680.57L1362.96 687.37L1358.16 680.57ZM1371.97 699.4L1376.77 706.2L1371.97 713L1367.17 706.2ZM1380.98 742.7L1385.78 749.5L1380.98 756.3L1376.18 749.5ZM1389.99 668.54L1394.79 675.34L1389.99 682.14L1385.19 675.34ZM1399 691.51L1403.8 698.31L1399 705.11L1394.2 698.31ZM1408 744.42L1412.8 751.22L1408 758.02L1403.2 751.22ZM1417.01 665.27L1421.81 672.07L1417.01 678.87L1412.21 672.07ZM1426.02 683.82L1430.82 690.62L1426.02 697.42L1421.22 690.62ZM1435.03 745.35L1439.83 752.15L1435.03 758.95L1430.23 752.15ZM1444.04 662.92L1448.84 669.72L1444.04 676.52L1439.24 669.72ZM1453.04 677.12L1457.84 683.92L1453.04 690.72L1448.24 683.92ZM1462.05 746.78L1466.85 753.58L1462.05 760.38L1457.25 753.58ZM1471.06 662.75L1475.86 669.55L1471.06 676.35L1466.26 669.55ZM1480.07 671.58L1484.87 678.38L1480.07 685.18L1475.27 678.38ZM1489.08 747.25L1493.88 754.05L1489.08 760.85L1484.28 754.05ZM1498.08 664.37L1502.88 671.17L1498.08 677.97L1493.28 671.17ZM1507.09 667.31L1511.89 674.11L1507.09 680.91L1502.29 674.11ZM1516.1 747.4L1520.9 754.2L1516.1 761L1511.3 754.2ZM1525.11 667.31L1529.91 674.11L1525.11 680.91L1520.31 674.11ZM1534.12 664.37L1538.92 671.17L1534.12 677.97L1529.32 671.17ZM1543.12 747.25L1547.92 754.05L1543.12 760.85L1538.32 754.05ZM1552.13 671.58L1556.93 678.38L1552.13 685.18L1547.33 678.38ZM1561.14 662.75L1565.94 669.55L1561.14 676.35L1556.34 669.55ZM1570.15 746.78L1574.95 753.58L1570.15 760.38L1565.35 753.58ZM1579.16 677.12L1583.96 683.92L1579.16 690.72L1574.36 683.92ZM1588.16 662.92L1592.96 669.72L1588.16 676.52L1583.36 669.72ZM1597.17 745.35L1601.97 752.15L1597.17 758.95L1592.37 752.15ZM1606.18 683.82L1610.98 690.62L1606.18 697.42L1601.38 690.62ZM1615.19 665.27L1619.99 672.07L1615.19 678.87L1610.39 672.07ZM1624.2 744.42L1629 751.22L1624.2 758.02L1619.4 751.22ZM1633.2 691.51L1638 698.31L1633.2 705.11L1628.4 698.31ZM1642.21 668.54L1647.01 675.34L1642.21 682.14L1637.41 675.34ZM1651.22 742.7L1656.02 749.5L1651.22 756.3L1646.42 749.5ZM1660.23 699.4L1665.03 706.2L1660.23 713L1655.43 706.2ZM1669.24 673.77L1674.04 680.57L1669.24 687.37L1664.44 680.57ZM1678.24 741.01L1683.04 747.81L1678.24 754.61L1673.44 747.81ZM1687.25 707.78L1692.05 714.58L1687.25 721.38L1682.45 714.58ZM1696.26 680.26L1701.06 687.06L1696.26 693.86L1691.46 687.06ZM1705.27 739.61L1710.07 746.41L1705.27 753.21L1700.47 746.41ZM1714.28 715.79L1719.08 722.59L1714.28 729.39L1709.48 722.59ZM1723.28 687.67L1728.08 694.47L1723.28 701.27L1718.48 694.47ZM1732.29 738.15L1737.09 744.95L1732.29 751.75L1727.49 744.95ZM1741.3 723.63L1746.1 730.43L1741.3 737.23L1736.5 730.43ZM1750.31 696.22L1755.11 703.02L1750.31 709.82L1745.51 703.02ZM1759.32 737.4L1764.12 744.2L1759.32 751L1754.52 744.2ZM1768.32 730.87L1773.12 737.67L1768.32 744.47L1763.52 737.67ZM1777.33 705.55L1782.13 712.35L1777.33 719.15L1772.53 712.35ZM1786.34 736.76L1791.14 743.56L1786.34 750.36L1781.54 743.56ZM1795.35 737.68L1800.15 744.48L1795.35 751.28L1790.55 744.48ZM1804.36 715.11L1809.16 721.91L1804.36 728.71L1799.56 721.91ZM1813.36 736.78L1818.16 743.58L1813.36 750.38L1808.56 743.58ZM1822.37 743.4L1827.17 750.2L1822.37 757L1817.57 750.2ZM1831.38 724.24L1836.18 731.04L1831.38 737.84L1826.58 731.04ZM1840.39 738L1845.19 744.8L1840.39 751.6L1835.59 744.8ZM1849.4 747.4L1854.2 754.2L1849.4 761L1844.6 754.2ZM1858.4 732.95L1863.2 739.75L1858.4 746.55L1853.6 739.75ZM1867.41 738.82L1872.21 745.62L1867.41 752.42L1862.61 745.62ZM1876.42 747.4L1881.22 754.2L1876.42 761L1871.62 754.2ZM1885.43 742.93L1890.23 749.73L1885.43 756.53L1880.63 749.73ZM1894.44 727.04L1899.24 733.84L1894.44 740.64L1889.64 733.84ZM1903.44 747.4L1908.24 754.2L1903.44 761L1898.64 754.2ZM1912.45 747.4L1917.25 754.2L1912.45 761L1907.65 754.2ZM1921.46 732.85L1926.26 739.65L1921.46 746.45L1916.66 739.65ZM1930.47 741.58L1935.27 748.38L1930.47 755.18L1925.67 748.38ZM1939.48 747.4L1944.28 754.2L1939.48 761L1934.68 754.2ZM1948.48 720.49L1953.28 727.29L1948.48 734.09L1943.68 727.29ZM1957.49 744.49L1962.29 751.29L1957.49 758.09L1952.69 751.29ZM1966.5 747.4L1971.3 754.2L1966.5 761L1961.7 754.2Z" fill="none" stroke="#00ffff" stroke-width="4"/>
<path d="M1065.7 738.2L1083.7 741.8L1101.7 741.8L1119.7 741.8L1137.8 741.8L1155.8 739.6L1173.8 741.8L1191.8 741.8L1209.8 732L1227.8 741.8L1245.9 726.4L1263.9 725.8L1281.9 741.8L1299.9 705.2L1317.9 720.8L1335.9 741.8L1354 683.2L1372 718.7L1390 741.8L1408 663.8L1426 719.8L1444 737L1462.1 650.9L1480.1 723.5L1498.1 729.4L1516.1 646.6L1534.1 729.4L1552.1 723.5L1570.1 650.9L1588.2 737L1606.2 719.8L1624.2 663.8L1642.2 741.8L1660.2 718.7L1678.2 683.2L1696.3 741.8L1714.3 720.8L1732.3 705.2L1750.3 741.8L1768.3 725.8L1786.3 726.4L1804.4 741.8L1822.4 732L1840.4 741.8L1858.4 741.8L1876.4 739.6L1894.4 741.8L1912.5 741.8L1930.5 741.8L1948.5 741.8L1966.5 738.2M1074.7 745.5L1092.7 741.7L1110.7 741.8L1128.8 741.8L1146.8 741.8L1164.8 741.8L1182.8 735.7L1200.8 741.8L1218.8 735.7L1236.9 728.7L1254.9 741.8L1272.9 716L1290.9 723L1308.9 741.8L1326.9 693.9L1344.9 719.2L1363 741.8L1381 672.9L1399 718.7L1417 740.2L1435 656.8L1453 721.4L1471.1 733.2L1489.1 647.6L1507.1 726.2L1525.1 726.2L1543.1 647.6L1561.1 733.2L1579.2 721.4L1597.2 656.8L1615.2 740.2L1633.2 718.7L1651.2 672.9L1669.2 741.8L1687.3 719.2L1705.3 693.9L1723.3 741.8L1741.3 723L1759.3 716L1777.3 741.8L1795.3 728.7L1813.4 735.7L1831.4 741.8L1849.4 735.7L1867.4 741.8L1885.4 741.8L1903.4 741.8L1921.5 741.8L1939.5 741.7L1957.5 745.5" fill="none" stroke="#ff00ff" stroke-width="3.4" stroke-linejoin="round" stroke-dasharray="9 7"/>
<path d="M1060.3 734.4L1071.1 734.4L1065.7 743.8ZM1069.31 741.67L1080.11 741.67L1074.71 751.07ZM1078.32 738.04L1089.12 738.04L1083.72 747.44ZM1087.32 737.91L1098.12 737.91L1092.72 747.31ZM1096.33 738.04L1107.13 738.04L1101.73 747.44ZM1105.34 738.04L1116.14 738.04L1110.74 747.44ZM1114.35 738.04L1125.15 738.04L1119.75 747.44ZM1123.36 738.04L1134.16 738.04L1128.76 747.44ZM1132.36 738.04L1143.16 738.04L1137.76 747.44ZM1141.37 738.04L1152.17 738.04L1146.77 747.44ZM1150.38 735.76L1161.18 735.76L1155.78 745.16ZM1159.39 738.04L1170.19 738.04L1164.79 747.44ZM1168.4 738.04L1179.2 738.04L1173.8 747.44ZM1177.4 731.89L1188.2 731.89L1182.8 741.29ZM1186.41 738.04L1197.21 738.04L1191.81 747.44ZM1195.42 738.04L1206.22 738.04L1200.82 747.44ZM1204.43 728.23L1215.23 728.23L1209.83 737.63ZM1213.44 731.89L1224.24 731.89L1218.84 741.29ZM1222.44 738.04L1233.24 738.04L1227.84 747.44ZM1231.45 724.89L1242.25 724.89L1236.85 734.29ZM1240.46 722.63L1251.26 722.63L1245.86 732.03ZM1249.47 738.04L1260.27 738.04L1254.87 747.44ZM1258.48 721.98L1269.28 721.98L1263.88 731.38ZM1267.48 712.19L1278.28 712.19L1272.88 721.59ZM1276.49 738.04L1287.29 738.04L1281.89 747.44ZM1285.5 719.18L1296.3 719.18L1290.9 728.58ZM1294.51 701.42L1305.31 701.42L1299.91 710.82ZM1303.52 738.04L1314.32 738.04L1308.92 747.44ZM1312.52 717.03L1323.32 717.03L1317.92 726.43ZM1321.53 690.12L1332.33 690.12L1326.93 699.52ZM1330.54 738.04L1341.34 738.04L1335.94 747.44ZM1339.55 715.42L1350.35 715.42L1344.95 724.82ZM1348.56 679.36L1359.36 679.36L1353.96 688.76ZM1357.56 738.04L1368.36 738.04L1362.96 747.44ZM1366.57 714.88L1377.37 714.88L1371.97 724.28ZM1375.58 669.13L1386.38 669.13L1380.98 678.53ZM1384.59 738.04L1395.39 738.04L1389.99 747.44ZM1393.6 714.88L1404.4 714.88L1399 724.28ZM1402.6 659.98L1413.4 659.98L1408 669.38ZM1411.61 736.41L1422.41 736.41L1417.01 745.81ZM1420.62 715.96L1431.42 715.96L1426.02 725.36ZM1429.63 652.99L1440.43 652.99L1435.03 662.39ZM1438.64 733.18L1449.44 733.18L1444.04 742.58ZM1447.64 717.57L1458.44 717.57L1453.04 726.97ZM1456.65 647.07L1467.45 647.07L1462.05 656.47ZM1465.66 729.41L1476.46 729.41L1471.06 738.81ZM1474.67 719.72L1485.47 719.72L1480.07 729.12ZM1483.68 643.84L1494.48 643.84L1489.08 653.24ZM1492.68 725.64L1503.48 725.64L1498.08 735.04ZM1501.69 722.41L1512.49 722.41L1507.09 731.81ZM1510.7 642.76L1521.5 642.76L1516.1 652.16ZM1519.71 722.41L1530.51 722.41L1525.11 731.81ZM1528.72 725.64L1539.52 725.64L1534.12 735.04ZM1537.72 643.84L1548.52 643.84L1543.12 653.24ZM1546.73 719.72L1557.53 719.72L1552.13 729.12ZM1555.74 729.41L1566.54 729.41L1561.14 738.81ZM1564.75 647.07L1575.55 647.07L1570.15 656.47ZM1573.76 717.57L1584.56 717.57L1579.16 726.97ZM1582.76 733.18L1593.56 733.18L1588.16 742.58ZM1591.77 652.99L1602.57 652.99L1597.17 662.39ZM1600.78 715.96L1611.58 715.96L1606.18 725.36ZM1609.79 736.41L1620.59 736.41L1615.19 745.81ZM1618.8 659.98L1629.6 659.98L1624.2 669.38ZM1627.8 714.88L1638.6 714.88L1633.2 724.28ZM1636.81 738.04L1647.61 738.04L1642.21 747.44ZM1645.82 669.13L1656.62 669.13L1651.22 678.53ZM1654.83 714.88L1665.63 714.88L1660.23 724.28ZM1663.84 738.04L1674.64 738.04L1669.24 747.44ZM1672.84 679.36L1683.64 679.36L1678.24 688.76ZM1681.85 715.42L1692.65 715.42L1687.25 724.82ZM1690.86 738.04L1701.66 738.04L1696.26 747.44ZM1699.87 690.12L1710.67 690.12L1705.27 699.52ZM1708.88 717.03L1719.68 717.03L1714.28 726.43ZM1717.88 738.04L1728.68 738.04L1723.28 747.44ZM1726.89 701.42L1737.69 701.42L1732.29 710.82ZM1735.9 719.18L1746.7 719.18L1741.3 728.58ZM1744.91 738.04L1755.71 738.04L1750.31 747.44ZM1753.92 712.19L1764.72 712.19L1759.32 721.59ZM1762.92 721.98L1773.72 721.98L1768.32 731.38ZM1771.93 738.04L1782.73 738.04L1777.33 747.44ZM1780.94 722.63L1791.74 722.63L1786.34 732.03ZM1789.95 724.89L1800.75 724.89L1795.35 734.29ZM1798.96 738.04L1809.76 738.04L1804.36 747.44ZM1807.96 731.89L1818.76 731.89L1813.36 741.29ZM1816.97 728.23L1827.77 728.23L1822.37 737.63ZM1825.98 738.04L1836.78 738.04L1831.38 747.44ZM1834.99 738.04L1845.79 738.04L1840.39 747.44ZM1844 731.89L1854.8 731.89L1849.4 741.29ZM1853 738.04L1863.8 738.04L1858.4 747.44ZM1862.01 738.04L1872.81 738.04L1867.41 747.44ZM1871.02 735.76L1881.82 735.76L1876.42 745.16ZM1880.03 738.04L1890.83 738.04L1885.43 747.44ZM1889.04 738.04L1899.84 738.04L1894.44 747.44ZM1898.04 738.04L1908.84 738.04L1903.44 747.44ZM1907.05 738.04L1917.85 738.04L1912.45 747.44ZM1916.06 738.04L1926.86 738.04L1921.46 747.44ZM1925.07 738.04L1935.87 738.04L1930.47 747.44ZM1934.08 737.91L1944.88 737.91L1939.48 747.31ZM1943.08 738.04L1953.88 738.04L1948.48 747.44ZM1952.09 741.67L1962.89 741.67L1957.49 751.07ZM1961.1 734.4L1971.9 734.4L1966.5 743.8Z" fill="none" stroke="#ff00ff" stroke-width="5.4"/>
<path d="M1065.7 754.2H1966.5" stroke="#000" stroke-width="8.4" fill="none" stroke-linecap="round"/>
<path d="M1059.5 754.2h12.4M1065.7 748v12.4M1061.32 749.82l8.77 8.77M1061.32 758.58l8.77 -8.77M1068.51 754.2h12.4M1074.71 748v12.4M1070.32 749.82l8.77 8.77M1070.32 758.58l8.77 -8.77M1077.52 754.2h12.4M1083.72 748v12.4M1079.33 749.82l8.77 8.77M1079.33 758.58l8.77 -8.77M1086.52 754.2h12.4M1092.72 748v12.4M1088.34 749.82l8.77 8.77M1088.34 758.58l8.77 -8.77M1095.53 754.2h12.4M1101.73 748v12.4M1097.35 749.82l8.77 8.77M1097.35 758.58l8.77 -8.77M1104.54 754.2h12.4M1110.74 748v12.4M1106.36 749.82l8.77 8.77M1106.36 758.58l8.77 -8.77M1113.55 754.2h12.4M1119.75 748v12.4M1115.36 749.82l8.77 8.77M1115.36 758.58l8.77 -8.77M1122.56 754.2h12.4M1128.76 748v12.4M1124.37 749.82l8.77 8.77M1124.37 758.58l8.77 -8.77M1131.56 754.2h12.4M1137.76 748v12.4M1133.38 749.82l8.77 8.77M1133.38 758.58l8.77 -8.77M1140.57 754.2h12.4M1146.77 748v12.4M1142.39 749.82l8.77 8.77M1142.39 758.58l8.77 -8.77M1149.58 754.2h12.4M1155.78 748v12.4M1151.4 749.82l8.77 8.77M1151.4 758.58l8.77 -8.77M1158.59 754.2h12.4M1164.79 748v12.4M1160.4 749.82l8.77 8.77M1160.4 758.58l8.77 -8.77M1167.6 754.2h12.4M1173.8 748v12.4M1169.41 749.82l8.77 8.77M1169.41 758.58l8.77 -8.77M1176.6 754.2h12.4M1182.8 748v12.4M1178.42 749.82l8.77 8.77M1178.42 758.58l8.77 -8.77M1185.61 754.2h12.4M1191.81 748v12.4M1187.43 749.82l8.77 8.77M1187.43 758.58l8.77 -8.77M1194.62 754.2h12.4M1200.82 748v12.4M1196.44 749.82l8.77 8.77M1196.44 758.58l8.77 -8.77M1203.63 754.2h12.4M1209.83 748v12.4M1205.44 749.82l8.77 8.77M1205.44 758.58l8.77 -8.77M1212.64 754.2h12.4M1218.84 748v12.4M1214.45 749.82l8.77 8.77M1214.45 758.58l8.77 -8.77M1221.64 754.2h12.4M1227.84 748v12.4M1223.46 749.82l8.77 8.77M1223.46 758.58l8.77 -8.77M1230.65 754.2h12.4M1236.85 748v12.4M1232.47 749.82l8.77 8.77M1232.47 758.58l8.77 -8.77M1239.66 754.2h12.4M1245.86 748v12.4M1241.48 749.82l8.77 8.77M1241.48 758.58l8.77 -8.77M1248.67 754.2h12.4M1254.87 748v12.4M1250.48 749.82l8.77 8.77M1250.48 758.58l8.77 -8.77M1257.68 754.2h12.4M1263.88 748v12.4M1259.49 749.82l8.77 8.77M1259.49 758.58l8.77 -8.77M1266.68 754.2h12.4M1272.88 748v12.4M1268.5 749.82l8.77 8.77M1268.5 758.58l8.77 -8.77M1275.69 754.2h12.4M1281.89 748v12.4M1277.51 749.82l8.77 8.77M1277.51 758.58l8.77 -8.77M1284.7 754.2h12.4M1290.9 748v12.4M1286.52 749.82l8.77 8.77M1286.52 758.58l8.77 -8.77M1293.71 754.2h12.4M1299.91 748v12.4M1295.52 749.82l8.77 8.77M1295.52 758.58l8.77 -8.77M1302.72 754.2h12.4M1308.92 748v12.4M1304.53 749.82l8.77 8.77M1304.53 758.58l8.77 -8.77M1311.72 754.2h12.4M1317.92 748v12.4M1313.54 749.82l8.77 8.77M1313.54 758.58l8.77 -8.77M1320.73 754.2h12.4M1326.93 748v12.4M1322.55 749.82l8.77 8.77M1322.55 758.58l8.77 -8.77M1329.74 754.2h12.4M1335.94 748v12.4M1331.56 749.82l8.77 8.77M1331.56 758.58l8.77 -8.77M1338.75 754.2h12.4M1344.95 748v12.4M1340.56 749.82l8.77 8.77M1340.56 758.58l8.77 -8.77M1347.76 754.2h12.4M1353.96 748v12.4M1349.57 749.82l8.77 8.77M1349.57 758.58l8.77 -8.77M1356.76 754.2h12.4M1362.96 748v12.4M1358.58 749.82l8.77 8.77M1358.58 758.58l8.77 -8.77M1365.77 754.2h12.4M1371.97 748v12.4M1367.59 749.82l8.77 8.77M1367.59 758.58l8.77 -8.77M1374.78 754.2h12.4M1380.98 748v12.4M1376.6 749.82l8.77 8.77M1376.6 758.58l8.77 -8.77M1383.79 754.2h12.4M1389.99 748v12.4M1385.6 749.82l8.77 8.77M1385.6 758.58l8.77 -8.77M1392.8 754.2h12.4M1399 748v12.4M1394.61 749.82l8.77 8.77M1394.61 758.58l8.77 -8.77M1401.8 754.2h12.4M1408 748v12.4M1403.62 749.82l8.77 8.77M1403.62 758.58l8.77 -8.77M1410.81 754.2h12.4M1417.01 748v12.4M1412.63 749.82l8.77 8.77M1412.63 758.58l8.77 -8.77M1419.82 754.2h12.4M1426.02 748v12.4M1421.64 749.82l8.77 8.77M1421.64 758.58l8.77 -8.77M1428.83 754.2h12.4M1435.03 748v12.4M1430.64 749.82l8.77 8.77M1430.64 758.58l8.77 -8.77M1437.84 754.2h12.4M1444.04 748v12.4M1439.65 749.82l8.77 8.77M1439.65 758.58l8.77 -8.77M1446.84 754.2h12.4M1453.04 748v12.4M1448.66 749.82l8.77 8.77M1448.66 758.58l8.77 -8.77M1455.85 754.2h12.4M1462.05 748v12.4M1457.67 749.82l8.77 8.77M1457.67 758.58l8.77 -8.77M1464.86 754.2h12.4M1471.06 748v12.4M1466.68 749.82l8.77 8.77M1466.68 758.58l8.77 -8.77M1473.87 754.2h12.4M1480.07 748v12.4M1475.68 749.82l8.77 8.77M1475.68 758.58l8.77 -8.77M1482.88 754.2h12.4M1489.08 748v12.4M1484.69 749.82l8.77 8.77M1484.69 758.58l8.77 -8.77M1491.88 754.2h12.4M1498.08 748v12.4M1493.7 749.82l8.77 8.77M1493.7 758.58l8.77 -8.77M1500.89 754.2h12.4M1507.09 748v12.4M1502.71 749.82l8.77 8.77M1502.71 758.58l8.77 -8.77M1509.9 754.2h12.4M1516.1 748v12.4M1511.72 749.82l8.77 8.77M1511.72 758.58l8.77 -8.77M1518.91 754.2h12.4M1525.11 748v12.4M1520.72 749.82l8.77 8.77M1520.72 758.58l8.77 -8.77M1527.92 754.2h12.4M1534.12 748v12.4M1529.73 749.82l8.77 8.77M1529.73 758.58l8.77 -8.77M1536.92 754.2h12.4M1543.12 748v12.4M1538.74 749.82l8.77 8.77M1538.74 758.58l8.77 -8.77M1545.93 754.2h12.4M1552.13 748v12.4M1547.75 749.82l8.77 8.77M1547.75 758.58l8.77 -8.77M1554.94 754.2h12.4M1561.14 748v12.4M1556.76 749.82l8.77 8.77M1556.76 758.58l8.77 -8.77M1563.95 754.2h12.4M1570.15 748v12.4M1565.76 749.82l8.77 8.77M1565.76 758.58l8.77 -8.77M1572.96 754.2h12.4M1579.16 748v12.4M1574.77 749.82l8.77 8.77M1574.77 758.58l8.77 -8.77M1581.96 754.2h12.4M1588.16 748v12.4M1583.78 749.82l8.77 8.77M1583.78 758.58l8.77 -8.77M1590.97 754.2h12.4M1597.17 748v12.4M1592.79 749.82l8.77 8.77M1592.79 758.58l8.77 -8.77M1599.98 754.2h12.4M1606.18 748v12.4M1601.8 749.82l8.77 8.77M1601.8 758.58l8.77 -8.77M1608.99 754.2h12.4M1615.19 748v12.4M1610.8 749.82l8.77 8.77M1610.8 758.58l8.77 -8.77M1618 754.2h12.4M1624.2 748v12.4M1619.81 749.82l8.77 8.77M1619.81 758.58l8.77 -8.77M1627 754.2h12.4M1633.2 748v12.4M1628.82 749.82l8.77 8.77M1628.82 758.58l8.77 -8.77M1636.01 754.2h12.4M1642.21 748v12.4M1637.83 749.82l8.77 8.77M1637.83 758.58l8.77 -8.77M1645.02 754.2h12.4M1651.22 748v12.4M1646.84 749.82l8.77 8.77M1646.84 758.58l8.77 -8.77M1654.03 754.2h12.4M1660.23 748v12.4M1655.84 749.82l8.77 8.77M1655.84 758.58l8.77 -8.77M1663.04 754.2h12.4M1669.24 748v12.4M1664.85 749.82l8.77 8.77M1664.85 758.58l8.77 -8.77M1672.04 754.2h12.4M1678.24 748v12.4M1673.86 749.82l8.77 8.77M1673.86 758.58l8.77 -8.77M1681.05 754.2h12.4M1687.25 748v12.4M1682.87 749.82l8.77 8.77M1682.87 758.58l8.77 -8.77M1690.06 754.2h12.4M1696.26 748v12.4M1691.88 749.82l8.77 8.77M1691.88 758.58l8.77 -8.77M1699.07 754.2h12.4M1705.27 748v12.4M1700.88 749.82l8.77 8.77M1700.88 758.58l8.77 -8.77M1708.08 754.2h12.4M1714.28 748v12.4M1709.89 749.82l8.77 8.77M1709.89 758.58l8.77 -8.77M1717.08 754.2h12.4M1723.28 748v12.4M1718.9 749.82l8.77 8.77M1718.9 758.58l8.77 -8.77M1726.09 754.2h12.4M1732.29 748v12.4M1727.91 749.82l8.77 8.77M1727.91 758.58l8.77 -8.77M1735.1 754.2h12.4M1741.3 748v12.4M1736.92 749.82l8.77 8.77M1736.92 758.58l8.77 -8.77M1744.11 754.2h12.4M1750.31 748v12.4M1745.92 749.82l8.77 8.77M1745.92 758.58l8.77 -8.77M1753.12 754.2h12.4M1759.32 748v12.4M1754.93 749.82l8.77 8.77M1754.93 758.58l8.77 -8.77M1762.12 754.2h12.4M1768.32 748v12.4M1763.94 749.82l8.77 8.77M1763.94 758.58l8.77 -8.77M1771.13 754.2h12.4M1777.33 748v12.4M1772.95 749.82l8.77 8.77M1772.95 758.58l8.77 -8.77M1780.14 754.2h12.4M1786.34 748v12.4M1781.96 749.82l8.77 8.77M1781.96 758.58l8.77 -8.77M1789.15 754.2h12.4M1795.35 748v12.4M1790.96 749.82l8.77 8.77M1790.96 758.58l8.77 -8.77M1798.16 754.2h12.4M1804.36 748v12.4M1799.97 749.82l8.77 8.77M1799.97 758.58l8.77 -8.77M1807.16 754.2h12.4M1813.36 748v12.4M1808.98 749.82l8.77 8.77M1808.98 758.58l8.77 -8.77M1816.17 754.2h12.4M1822.37 748v12.4M1817.99 749.82l8.77 8.77M1817.99 758.58l8.77 -8.77M1825.18 754.2h12.4M1831.38 748v12.4M1827 749.82l8.77 8.77M1827 758.58l8.77 -8.77M1834.19 754.2h12.4M1840.39 748v12.4M1836 749.82l8.77 8.77M1836 758.58l8.77 -8.77M1843.2 754.2h12.4M1849.4 748v12.4M1845.01 749.82l8.77 8.77M1845.01 758.58l8.77 -8.77M1852.2 754.2h12.4M1858.4 748v12.4M1854.02 749.82l8.77 8.77M1854.02 758.58l8.77 -8.77M1861.21 754.2h12.4M1867.41 748v12.4M1863.03 749.82l8.77 8.77M1863.03 758.58l8.77 -8.77M1870.22 754.2h12.4M1876.42 748v12.4M1872.04 749.82l8.77 8.77M1872.04 758.58l8.77 -8.77M1879.23 754.2h12.4M1885.43 748v12.4M1881.04 749.82l8.77 8.77M1881.04 758.58l8.77 -8.77M1888.24 754.2h12.4M1894.44 748v12.4M1890.05 749.82l8.77 8.77M1890.05 758.58l8.77 -8.77M1897.24 754.2h12.4M1903.44 748v12.4M1899.06 749.82l8.77 8.77M1899.06 758.58l8.77 -8.77M1906.25 754.2h12.4M1912.45 748v12.4M1908.07 749.82l8.77 8.77M1908.07 758.58l8.77 -8.77M1915.26 754.2h12.4M1921.46 748v12.4M1917.08 749.82l8.77 8.77M1917.08 758.58l8.77 -8.77M1924.27 754.2h12.4M1930.47 748v12.4M1926.08 749.82l8.77 8.77M1926.08 758.58l8.77 -8.77M1933.28 754.2h12.4M1939.48 748v12.4M1935.09 749.82l8.77 8.77M1935.09 758.58l8.77 -8.77M1942.28 754.2h12.4M1948.48 748v12.4M1944.1 749.82l8.77 8.77M1944.1 758.58l8.77 -8.77M1951.29 754.2h12.4M1957.49 748v12.4M1953.11 749.82l8.77 8.77M1953.11 758.58l8.77 -8.77M1960.3 754.2h12.4M1966.5 748v12.4M1962.12 749.82l8.77 8.77M1962.12 758.58l8.77 -8.77" fill="none" stroke="#000000" stroke-width="2.6"/>
</g>
<path d="M1966.5 10.7V767.2" fill="none" stroke="#747474" stroke-width="1.7"/>
<path d="M1065.7 11.3H1967.3" fill="none" stroke="#2c2c2c" stroke-width="1.3"/>
<path d="M1065.7 11.3V767.2H1966.5" fill="none" stroke="#000" stroke-width="1.3"/>
<path d="M1065.7 769.7v-11.1M1065.7 11.3v8.6M1245.9 767.2v-8.6M1245.9 11.3v8.6M1426 767.2v-8.6M1426 11.3v8.6M1606.2 767.2v-8.6M1606.2 11.3v8.6M1786.3 767.2v-8.6M1786.3 11.3v8.6M1966 767.2v-8.6M1966 11.3v8.6" fill="none" stroke="#000" stroke-width="1.5"/>
<path d="M1065.7 754.2h8.6M1966.5 754.2h-8.6M1065.7 681.5h8.6M1966.5 681.5h-8.6M1065.7 608.7h8.6M1966.5 608.7h-8.6M1065.7 536h8.6M1966.5 536h-8.6M1065.7 463.3h8.6M1966.5 463.3h-8.6M1065.7 390.6h8.6M1966.5 390.6h-8.6M1065.7 317.8h8.6M1966.5 317.8h-8.6M1065.7 245.1h8.6M1966.5 245.1h-8.6M1065.7 172.4h8.6M1966.5 172.4h-8.6M1065.7 99.6h8.6M1966.5 99.6h-8.6M1065.7 26.9h8.6M1966.5 26.9h-8.6" fill="none" stroke="#000" stroke-width="1.3"/>
<g font-family='"Liberation Sans", sans-serif' font-size="29.7" fill="#000">
<text x="1064.9" y="798.8" text-anchor="middle">0</text>
<text x="1245.1" y="798.8" text-anchor="middle">10</text>
<text x="1425.2" y="798.8" text-anchor="middle">20</text>
<text x="1605.4" y="798.8" text-anchor="middle">30</text>
<text x="1785.5" y="798.8" text-anchor="middle">40</text>
<text x="1965.7" y="798.8" text-anchor="middle">50</text>
<text x="1060.1" y="765.8" text-anchor="end">0</text>
<text x="1060.1" y="693.1" text-anchor="end">0.1</text>
<text x="1060.1" y="620.3" text-anchor="end">0.2</text>
<text x="1060.1" y="547.6" text-anchor="end">0.3</text>
<text x="1060.1" y="474.9" text-anchor="end">0.4</text>
<text x="1060.1" y="402.2" text-anchor="end">0.5</text>
<text x="1060.1" y="329.4" text-anchor="end">0.6</text>
<text x="1060.1" y="256.7" text-anchor="end">0.7</text>
<text x="1060.1" y="184" text-anchor="end">0.8</text>
<text x="1060.1" y="111.2" text-anchor="end">0.9</text>
<text x="1060.1" y="38.5" text-anchor="end">1</text>
</g>
<path d="M1097.3 43.2H1142.2" stroke="#0000ff" stroke-width="3.0" fill="none"/>
<path d="M1114.55 43.2a5.2 5.2 0 1 0 10.4 0a5.2 5.2 0 1 0 -10.4 0Z" fill="none" stroke="#0000ff" stroke-width="4.8"/>
<path d="M1097.3 95.4H1142.2" stroke="#ff0000" stroke-width="1.6" fill="none"/>
<path d="M1119.75 86.4L1121.77 92.62L1128.31 92.62L1123.02 96.46L1125.04 102.68L1119.75 98.84L1114.46 102.68L1116.48 96.46L1111.19 92.62L1117.73 92.62Z" fill="#ff0000" stroke="#ff0000" stroke-width="1.2"/>
<path d="M1097.3 146.7H1142.2" stroke="#00ff00" stroke-width="3.4" fill="none"/>
<path d="M1114.75 141.7L1124.75 141.7L1124.75 151.7L1114.75 151.7Z" fill="none" stroke="#00ff00" stroke-width="3"/>
<path d="M1097.3 198.8H1142.2" stroke="#00ffff" stroke-width="4.0" fill="none" stroke-dasharray="8.5 9"/>
<path d="M1119.75 192L1124.55 198.8L1119.75 205.6L1114.95 198.8Z" fill="none" stroke="#00ffff" stroke-width="4"/>
<path d="M1097.3 249.5H1142.2" stroke="#ff00ff" stroke-width="2.6" fill="none" stroke-dasharray="8.5 9"/>
<path d="M1114.35 245.7L1125.15 245.7L1119.75 255.1Z" fill="none" stroke="#ff00ff" stroke-width="5.4"/>
<path d="M1097.3 301.1H1142.2" stroke="#000000" stroke-width="1.6" fill="none" stroke-dasharray="8.5 9"/>
<path d="M1113.55 301.1h12.4M1119.75 294.9v12.4M1115.37 296.72l8.77 8.77M1115.37 305.48l8.77 -8.77" fill="none" stroke="#000000" stroke-width="2.6"/>
<g font-family='"Liberation Sans", sans-serif' font-size="27.4" font-weight="bold" letter-spacing="0.8" fill="#000">
<text x="1145.6" y="47.6">Mo:d<tspan letter-spacing="0" font-size="21.9" dy="14" dx="0.5">z</tspan><tspan letter-spacing="0" font-size="17" dy="-14.5">2</tspan></text>
<text x="1145.6" y="99.8">Mo:d<tspan letter-spacing="0" font-size="21.9" dy="14" dx="0.5">x</tspan><tspan letter-spacing="0" font-size="17" dy="-14.5" dx="-0.5">2</tspan><tspan letter-spacing="0" font-size="21.9" dy="14.5" dx="2.5">−y</tspan><tspan letter-spacing="0" font-size="17" dy="-14.5" dx="0.5">2</tspan></text>
<text x="1145.6" y="151.1">Mo:d<tspan letter-spacing="0" font-size="21.9" dy="14" dx="0.5">xy</tspan></text>
<text x="1145.6" y="203.2">S:p<tspan letter-spacing="0" font-size="21.9" dy="14" dx="0.5">x</tspan></text>
<text x="1145.6" y="253.9">S:p<tspan letter-spacing="0" font-size="21.9" dy="14" dx="0.5">y</tspan></text>
<text x="1145.6" y="305.5">S:p<tspan letter-spacing="0" font-size="21.9" dy="14" dx="0.5">z</tspan></text>
</g>
<g font-family='"Liberation Sans", sans-serif' font-size="35" fill="#000">
<text x="1483.3" y="833.6">x/a<tspan font-size="29.4" dy="17.2" dx="1.2">0</tspan></text>
<text transform="translate(1005.6 391.7) rotate(-90)" text-anchor="middle" textLength="304.5" lengthAdjust="spacing">Normalized PLDOS</text>
</g>
<text x="1849.4" y="89.9" font-family='"Liberation Sans", sans-serif' font-size="28" font-weight="bold">(b)</text>
</svg></body></html>
